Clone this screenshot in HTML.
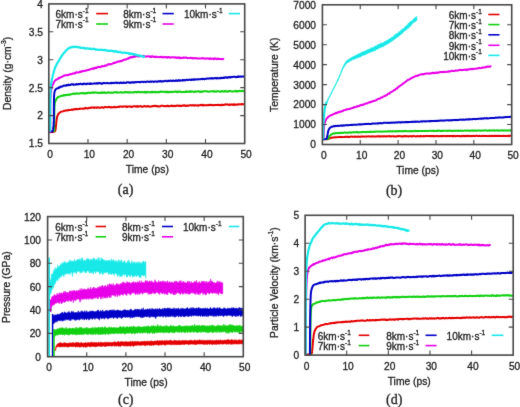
<!DOCTYPE html>
<html><head><meta charset="utf-8"><title>Figure</title>
<style>html,body{margin:0;padding:0;background:#fff;}body{width:520px;height:407px;overflow:hidden;}svg{display:block;}</style>
</head><body>
<svg width="520" height="407" viewBox="0 0 520 407">
<style>text{fill:#1e1e1e;stroke:#1e1e1e;stroke-width:0.3px;}</style>
<defs><filter id="bl" filterUnits="userSpaceOnUse" x="0" y="0" width="520" height="407" color-interpolation-filters="sRGB"><feConvolveMatrix order="3" kernelMatrix="0.015 0.06 0.015 0.06 0.7 0.06 0.015 0.06 0.015" edgeMode="duplicate"/></filter></defs>
<rect width="520" height="407" fill="#fff"/>
<g filter="url(#bl)">
<polyline points="49.4,131.96 49.76,131.82 50.49,132.22 51.57,131.76 52.3,132.13 53.03,131.99 54.15,131.49 54.95,131.34 55.42,130.19 55.58,129.48 55.65,128.56 55.73,127.94 55.81,127.45 55.89,127.02 55.98,125.58 56.06,124.78 56.12,124.44 56.18,124.02 56.24,123.06 56.33,122.03 56.43,121.6 56.54,120.07 56.64,119.94 56.76,118.82 56.88,118.03 57.12,116.88 57.41,116.03 57.72,115.57 58.06,114.31 58.44,114 58.88,113.5 59.39,112.83 59.97,112.59 60.63,111.9 61.33,111.6 62.08,111.41 62.88,111.49 63.73,110.99 64.36,110.75 64.99,110.81 65.83,110.54 66.66,110.25 67.36,110.54 68.05,110.35 68.75,109.87 69.38,110.05 70,109.92 70.62,110.11 71.25,109.91 71.95,109.47 72.66,109.93 73.36,109.16 74.06,109.31 74.69,109.51 75.31,108.96 75.94,109.16 76.56,108.73 77.19,109.16 77.88,109.17 78.56,108.94 79.25,109.12 79.94,108.6 80.62,108.83 81.25,108.69 81.88,108.62 82.5,108.46 83.12,108.71 83.75,108.74 84.38,108.3 85.05,108.41 85.73,107.87 86.41,108.34 87.08,108.24 87.76,108.47 88.44,108.28 89.06,107.82 89.69,107.86 90.31,108.05 90.94,107.5 91.56,107.82 92.19,107.55 92.81,107.47 93.48,107.39 94.15,107.93 94.82,107.39 95.49,107.46 96.16,107.54 96.83,107.9 97.5,107.24 98.12,107.52 98.75,107.58 99.38,107.83 100,107.76 100.62,107.77 101.25,107.29 101.88,107.38 102.5,107.31 103.12,107.71 103.75,107.75 104.38,107.09 105,107.09 105.62,107.12 106.25,107.1 106.88,107.28 107.5,107.35 108.12,107.07 108.75,106.84 109.38,107.15 110,107.1 110.62,107.23 111.25,107.52 111.88,107.3 112.5,107.14 113.12,107.2 113.75,107.23 114.38,106.71 115,107.37 115.62,107.26 116.25,107.31 116.88,107.23 117.5,106.89 118.12,106.88 118.75,106.62 119.38,107.03 120,106.55 120.62,106.54 121.25,106.63 121.88,106.57 122.5,106.7 123.12,106.45 123.75,106.39 124.38,106.5 125,106.44 125.62,106.64 126.25,106.35 126.88,107.02 127.5,106.79 128.12,106.4 128.75,106.47 129.38,106.53 130,106.53 130.62,106.33 131.25,106.89 131.88,107 132.5,106.56 133.12,106.56 133.75,106.23 134.38,106.23 135,106.41 135.62,106.33 136.25,106.77 136.88,106.22 137.5,106.1 138.12,106.83 138.75,106.48 139.38,106.16 140,106.47 140.62,106.04 141.25,106.43 141.88,106.78 142.5,106.68 143.12,106.53 143.75,106.17 144.38,106.24 145,106.07 145.62,106.54 146.25,106.34 146.88,106.53 147.5,106.16 148.12,106.06 148.75,106.52 149.38,106.65 150,106.53 150.62,106.48 151.25,106.48 151.88,106.41 152.5,105.99 153.12,106.21 153.75,106.07 154.38,105.8 155,105.78 155.62,105.97 156.25,105.95 156.88,106.28 157.5,106.48 158.12,106.06 158.75,106.44 159.38,106.47 160,106.44 160.62,105.95 161.25,105.83 161.88,105.82 162.5,105.78 163.12,105.78 163.75,106.1 164.38,106.31 165,106.25 165.62,105.95 166.25,106.08 166.88,106.19 167.5,105.6 168.12,106.05 168.75,106.24 169.38,106.13 170,106.09 170.62,105.86 171.25,105.61 171.88,106.09 172.5,105.71 173.12,106.07 173.75,106.2 174.38,105.72 175,105.72 175.62,106.14 176.25,105.95 176.88,105.5 177.5,105.45 178.12,105.46 178.75,106.05 179.38,105.96 180,105.42 180.62,105.95 181.25,106.06 181.88,105.79 182.5,105.53 183.12,105.68 183.75,105.33 184.38,105.22 185,105.98 185.62,105.71 186.25,105.6 186.88,105.91 187.5,105.5 188.12,105.83 188.75,105.79 189.39,105.28 190.04,105.3 190.68,105.32 191.33,105.26 191.97,105.53 192.62,105.25 193.26,105.37 193.9,105.12 194.55,105.73 195.19,105.27 195.84,105.34 196.48,105.43 197.12,105.67 197.74,105.27 198.36,105.66 198.97,105.31 199.59,105.32 200.21,105.3 200.82,104.88 201.44,105.21 202.06,104.99 202.68,104.83 203.29,105.46 203.91,104.94 204.53,105.17 205.14,105.36 205.76,105.21 206.38,105.01 207.01,105.15 207.64,105.17 208.27,105.34 208.91,104.78 209.54,105.13 210.17,104.86 210.8,104.87 211.44,105.26 212.07,105.03 212.7,105.06 213.34,105.2 213.97,105.31 214.6,104.92 215.23,105.04 215.87,104.94 216.5,104.93 217.11,105.07 217.72,104.86 218.33,104.91 218.94,104.85 219.56,105.21 220.17,105 220.78,105.13 221.39,105.17 222,104.61 222.61,104.83 223.22,105.13 223.83,105.03 224.44,104.45 225.06,104.43 225.67,104.67 226.28,104.36 226.89,104.48 227.5,104.33 228.13,104.8 228.77,104.87 229.4,104.95 230.04,104.34 230.67,104.78 231.31,104.72 231.94,104.29 232.58,104.87 233.21,104.92 233.85,104.31 234.48,104.88 235.12,104.42 235.75,104.48 236.36,104.87 236.97,104.73 237.58,104.18 238.19,104.38 238.81,104.43 239.42,104.28 240.03,104.15 240.64,104.23 241.25,104.54 241.94,103.96 242.62,104.37 243.31,104.27 244,103.91" fill="none" stroke="#e40000" stroke-width="2.0" stroke-linejoin="round" stroke-linecap="butt"/>
<polyline points="54.2,131.97 54.2,131.51 54.21,130.73 54.21,129.68 54.21,129.73 54.22,128.88 54.22,128.33 54.22,126.95 54.23,126.39 54.23,125.52 54.23,125.42 54.23,124.32 54.24,123.52 54.24,123.14 54.24,122.91 54.25,122.23 54.25,121.16 54.25,120.46 54.25,120.46 54.26,119.57 54.26,119.06 54.26,117.96 54.27,117.28 54.27,117.13 54.28,116.26 54.29,115.33 54.29,115.37 54.3,114.47 54.31,113.95 54.32,112.77 54.33,112.78 54.34,111.54 54.35,111.57 54.36,110.64 54.37,109.94 54.39,109.44 54.41,109.06 54.43,107.86 54.45,107.08 54.5,106.52 54.55,105.42 54.62,104.57 54.69,103.87 54.79,103.17 54.88,102.67 55.11,101.8 55.39,101.09 55.69,100.78 56.01,99.76 56.36,99.3 56.74,98.44 57.19,98.03 57.71,97.28 58.31,97.04 58.99,96.47 59.71,96.71 60.47,96.25 61.28,95.68 62.12,95.65 62.83,95.88 63.53,95.07 64.19,95.52 64.84,95.1 65.49,95.04 66.12,95.22 66.75,94.77 67.38,94.76 68.01,94.81 68.63,94.96 69.24,94.37 69.86,94.67 70.47,94.49 71.09,94.35 71.78,94.09 72.47,93.97 73.16,93.66 73.85,93.64 74.54,93.52 75.17,94 75.81,93.56 76.45,93.43 77.09,93.31 77.73,93.86 78.36,93.83 78.96,93.63 79.56,93.28 80.16,93.21 80.76,93.21 81.36,93.31 81.96,93.03 82.56,93.22 83.22,93.04 83.87,93.57 84.52,93.54 85.18,93.17 85.83,92.9 86.48,93.44 87.14,92.89 87.77,92.9 88.4,92.6 89.03,92.88 89.66,92.93 90.29,92.93 90.92,92.67 91.56,92.89 92.19,92.47 92.82,92.66 93.44,92.5 94.05,92.73 94.67,92.43 95.29,92.4 95.9,92.61 96.52,92.54 97.14,92.81 97.76,92.75 98.37,92.91 98.99,92.82 99.61,92.85 100.21,92.97 100.82,92.57 101.43,92.51 102.04,93.03 102.64,92.35 103.25,92.8 103.86,92.73 104.46,92.24 105.07,92.86 105.68,92.89 106.29,92.67 106.89,92.75 107.5,92.8 108.1,92.25 108.7,92.56 109.3,92.53 109.9,92.79 110.5,92.76 111.1,92.77 111.7,92.57 112.3,92.81 112.9,92.64 113.5,92.64 114.1,92.26 114.7,92.09 115.3,92.17 115.9,92.35 116.5,92.13 117.12,92.71 117.73,92.48 118.35,92.53 118.97,92.52 119.58,92.56 120.2,92.4 120.82,92.01 121.43,92.63 122.05,92.59 122.67,92.39 123.28,92.4 123.9,92.5 124.52,92.02 125.13,92.55 125.75,92.15 126.38,92 127.02,92.15 127.65,92.51 128.28,92.09 128.92,92.51 129.55,92.69 130.18,92.3 130.82,92.2 131.45,92.27 132.08,92.43 132.72,92.49 133.35,92.36 133.98,92.38 134.62,91.92 135.25,91.97 135.86,92.05 136.47,92.43 137.08,92.07 137.69,92.28 138.3,91.83 138.91,91.86 139.52,92.02 140.12,92.34 140.73,92.35 141.34,92.33 141.95,92.01 142.56,92.19 143.17,92.14 143.78,92.14 144.39,91.85 145,92.46 145.62,91.9 146.25,92.52 146.88,92.48 147.5,91.74 148.12,92.09 148.75,92.37 149.38,92.48 150,92.06 150.62,91.91 151.25,91.86 151.88,92.44 152.5,91.84 153.12,92.13 153.75,91.78 154.38,92.08 155,92.41 155.61,91.75 156.21,92.29 156.82,92.04 157.43,92.33 158.03,92.18 158.64,91.8 159.24,92.32 159.85,91.99 160.46,91.61 161.06,91.59 161.67,91.97 162.28,91.94 162.88,91.81 163.49,91.68 164.09,91.83 164.7,91.8 165.31,92.22 165.91,91.54 166.52,92.13 167.12,92.2 167.74,91.61 168.36,92.25 168.98,92.08 169.6,92.22 170.22,91.72 170.84,91.78 171.46,91.79 172.08,92.27 172.7,91.94 173.32,91.75 173.94,91.8 174.56,91.67 175.18,91.48 175.8,91.52 176.42,92.09 177.04,91.65 177.66,92.16 178.28,91.61 178.9,91.61 179.52,91.8 180.14,91.54 180.76,91.68 181.38,92.14 181.98,92.08 182.59,92.01 183.19,91.86 183.8,92.08 184.41,92.1 185.01,91.78 185.62,91.91 186.23,91.36 186.83,91.9 187.44,91.67 188.05,91.91 188.65,91.81 189.26,91.52 189.87,91.32 190.47,92.02 191.08,91.37 191.69,91.64 192.29,91.53 192.9,91.49 193.5,91.84 194.11,92.02 194.72,91.44 195.32,91.75 195.93,91.46 196.54,91.66 197.14,91.52 197.75,91.33 198.37,91.32 198.98,91.35 199.6,91.9 200.22,91.57 200.83,91.34 201.45,91.89 202.07,91.95 202.68,91.51 203.3,91.25 203.92,91.29 204.53,91.2 205.15,91.39 205.77,91.19 206.38,91.3 207,91.31 207.62,91.55 208.23,91.8 208.85,91.68 209.47,91.4 210.08,91.4 210.7,91.48 211.32,91.35 211.93,91.32 212.55,91.09 213.17,91.26 213.78,91.8 214.4,91.12 215.02,91.42 215.63,91.51 216.25,91.69 216.85,91.17 217.46,91.2 218.06,91.18 218.66,91.29 219.27,91.32 219.87,91.72 220.47,91.63 221.08,91.65 221.68,90.96 222.28,90.96 222.89,91.5 223.49,91.64 224.09,91.29 224.7,91.38 225.3,90.9 225.9,91.21 226.51,91.63 227.11,91.54 227.71,91.56 228.32,91.65 228.92,91.06 229.52,90.94 230.12,90.97 230.74,91.26 231.36,91.38 231.97,91.58 232.59,91.4 233.21,91.33 233.82,91.42 234.44,91.17 235.06,91.24 235.68,90.82 236.29,91.41 236.91,90.96 237.53,91.51 238.14,91.28 238.76,91 239.38,90.85 240.04,90.94 240.7,91.24 241.36,91.29 242.02,90.81 242.68,90.77 243.34,91.13 244,91.17" fill="none" stroke="#10d010" stroke-width="2.0" stroke-linejoin="round" stroke-linecap="butt"/>
<polyline points="49.4,131.71 49.67,131.58 50.23,131.88 51.05,131.41 52.15,131.64 52.43,131.11 52.7,130.84 52.98,129.93 53.07,129.46 53.17,128.47 53.26,127.61 53.36,126.96 53.45,126.87 53.54,126 53.58,125.02 53.61,124.13 53.64,123.85 53.67,123.33 53.71,122.46 53.74,121.67 53.77,121.33 53.8,120.88 53.84,119.66 53.84,118.89 53.84,118.52 53.84,117.98 53.85,117.57 53.85,116.58 53.85,116.44 53.85,115.79 53.85,114.99 53.85,114.14 53.86,114.14 53.86,113 53.86,112.79 53.86,111.71 53.87,111.06 53.87,110.85 53.87,109.84 53.88,109.73 53.88,108.72 53.88,107.83 53.89,107.22 53.89,106.74 53.9,106.3 53.9,105.88 53.91,104.64 53.91,104.23 53.92,103.48 53.92,103.48 53.93,102.21 53.94,101.53 53.94,100.93 53.95,100.59 53.96,100.33 53.97,99.66 53.99,98.88 54,98.43 54.01,97.72 54.05,96.36 54.09,95.37 54.15,95.22 54.21,94.32 54.29,93.13 54.37,93.01 54.58,91.78 54.83,91.02 55.14,90.32 55.53,89.6 55.99,88.96 56.51,88.76 57.29,88.33 58.31,88.26 58.95,87.29 59.59,87.66 60.35,86.72 61.11,86.5 61.75,86.67 62.39,86.47 63.02,85.96 63.79,85.49 64.56,85.66 65.32,85.4 66,85.73 66.67,85.05 67.34,85.07 68.01,85.39 68.63,84.63 69.24,84.86 69.86,85.11 70.47,85.01 71.09,84.36 71.78,84.29 72.47,84.25 73.16,84.88 73.85,84.29 74.54,84.62 75.17,84.69 75.81,84.2 76.45,84.11 77.09,84.61 77.73,84.29 78.36,83.97 78.96,84.3 79.56,83.95 80.16,83.88 80.76,83.63 81.36,84.2 81.96,84.3 82.56,84.04 83.22,84.27 83.87,83.51 84.52,83.65 85.18,83.82 85.83,84.18 86.48,84.15 87.14,83.67 87.77,83.54 88.4,83.66 89.03,83.69 89.66,84.02 90.29,83.4 90.92,83.88 91.56,83.8 92.19,83.85 92.82,83.79 93.44,83.64 94.05,83.39 94.67,83.37 95.29,83.38 95.9,83.7 96.52,83.12 97.14,83.19 97.76,83.62 98.37,83.19 98.99,83.03 99.61,82.98 100.21,83.38 100.82,83.18 101.43,83.69 102.04,83.59 102.64,83.66 103.25,83.06 103.86,82.9 104.46,82.89 105.07,83.19 105.68,83.35 106.29,83.12 106.89,82.93 107.5,83.06 108.1,83.2 108.7,83.23 109.3,83.27 109.9,83.34 110.5,83.17 111.1,82.72 111.7,83.28 112.3,82.83 112.9,83.03 113.5,82.86 114.1,83.13 114.7,82.68 115.3,82.71 115.9,82.69 116.5,82.6 117.14,83.16 117.78,82.9 118.42,82.68 119.05,82.72 119.69,83.17 120.33,82.77 120.97,82.53 121.61,82.97 122.25,82.82 122.88,83.08 123.52,82.35 124.16,82.62 124.8,82.88 125.44,82.88 126.07,82.92 126.71,82.2 127.34,82.38 127.97,82.22 128.61,82.26 129.24,82.86 129.88,82.53 130.51,82.79 131.14,82.32 131.78,82.69 132.41,82.34 133.04,82.17 133.68,82.56 134.31,82.68 134.94,81.98 135.57,82.35 136.2,82.35 136.83,82.01 137.46,82.1 138.09,81.9 138.72,81.93 139.35,81.95 139.98,82.2 140.61,82.22 141.24,81.84 141.87,81.67 142.5,81.9 143.12,82.16 143.75,81.74 144.38,81.82 145,81.71 145.62,82.16 146.25,81.93 146.88,81.52 147.5,81.53 148.12,81.74 148.75,81.84 149.38,81.89 150,81.43 150.62,81.46 151.25,81.87 151.88,81.62 152.5,81.49 153.12,81.48 153.75,81.97 154.38,81.43 155,81.61 155.62,81.42 156.25,81.44 156.88,81.77 157.5,81.85 158.12,81.32 158.75,81.16 159.38,81.56 160,81.11 160.62,80.93 161.25,81.62 161.88,81.21 162.5,81.5 163.12,81.14 163.75,81.49 164.38,81.12 165,80.86 165.62,80.71 166.25,81.11 166.88,81.15 167.5,81.34 168.12,80.65 168.75,81.05 169.38,80.82 170,80.9 170.62,80.58 171.25,80.66 171.88,80.82 172.5,81.11 173.12,80.42 173.75,80.7 174.38,80.92 175,81.02 175.62,80.37 176.25,80.28 176.88,80.9 177.5,80.9 178.12,80.47 178.75,80.1 179.38,80.76 180,80.3 180.62,80.68 181.25,80.41 181.88,80.54 182.5,79.98 183.12,80.44 183.75,79.96 184.38,80.07 185,80.39 185.62,80.34 186.25,79.79 186.88,79.79 187.5,79.9 188.12,79.95 188.74,79.81 189.36,79.57 189.98,79.63 190.6,79.97 191.22,80.08 191.84,79.36 192.46,79.74 193.08,79.86 193.7,79.24 194.32,79.85 194.95,79.24 195.57,79.58 196.19,79.51 196.8,79.53 197.42,79.24 198.04,79.29 198.66,79.38 199.27,79.22 199.89,79.37 200.51,79.16 201.12,79.11 201.74,78.74 202.36,79.18 202.98,79.04 203.59,78.8 204.21,79.18 204.83,79.16 205.45,78.86 206.06,78.6 206.68,78.79 207.29,78.46 207.9,78.44 208.52,78.64 209.13,78.33 209.75,78.57 210.36,78.58 210.97,78.17 211.59,78.6 212.2,78.12 212.82,78.6 213.43,78.6 214.04,78.34 214.66,77.94 215.27,78.26 215.89,78.12 216.5,78.54 217.11,77.84 217.72,78.38 218.33,78.45 218.94,78.19 219.56,78.22 220.17,77.68 220.78,78.27 221.39,77.84 222,78.17 222.61,78.09 223.22,77.45 223.83,77.91 224.44,77.98 225.06,77.24 225.67,77.43 226.28,77.71 226.89,77.19 227.5,77.74 228.13,77.2 228.77,77.59 229.4,77.01 230.04,77.25 230.67,77.54 231.31,76.93 231.94,76.93 232.58,77.08 233.21,76.89 233.85,76.62 234.48,76.69 235.12,76.63 235.75,77.21 236.36,76.96 236.97,77.1 237.58,76.47 238.19,76.92 238.81,76.35 239.42,76.64 240.03,76.68 240.64,76.42 241.25,76.79 241.94,76.48 242.62,76.46 243.31,76.65 244,75.98" fill="none" stroke="#0000c8" stroke-width="2.0" stroke-linejoin="round" stroke-linecap="butt"/>
<polyline points="50.2,132.44 50.2,131.45 50.2,130.57 50.21,130.27 50.21,129.12 50.21,129.11 50.21,128.07 50.21,127.21 50.22,126.9 50.22,125.95 50.22,125.11 50.22,125.02 50.22,123.79 50.23,123.89 50.23,122.78 50.23,122.53 50.23,122.24 50.23,121.28 50.24,120.75 50.24,119.83 50.24,118.94 50.24,118.35 50.24,117.84 50.25,117.64 50.25,116.86 50.25,116.32 50.25,116.05 50.25,114.75 50.25,114.22 50.26,113.98 50.26,112.8 50.26,112.17 50.26,111.87 50.27,110.99 50.27,110.56 50.28,109.78 50.28,109.45 50.29,108.8 50.3,107.8 50.3,107.52 50.31,106.73 50.31,105.77 50.32,105.83 50.33,104.57 50.34,103.84 50.35,103.15 50.36,103 50.37,102.57 50.38,101.85 50.4,100.86 50.41,100.1 50.43,99.26 50.45,99.21 50.47,98.52 50.49,97.72 50.51,97.37 50.52,96.57 50.57,96.27 50.62,95.34 50.67,94.15 50.74,94.06 50.81,92.61 50.88,92.37 50.96,91.65 51.04,90.9 51.12,90.13 51.27,89.99 51.42,88.5 51.6,88.3 51.77,87.96 51.97,86.61 52.16,86.02 52.36,85.81 52.57,85.14 53.01,84.2 53.49,83.41 54.04,81.94 54.66,81.22 55.36,80.43 56.14,79.48 57.07,79.53 57.62,79.09 58.17,78.69 58.81,77.72 59.44,78.13 60.15,77.72 60.86,77.14 61.6,77.09 62.34,76.53 63.11,76.05 63.88,75.67 64.68,75.53 65.47,75.11 66.3,75.15 67.12,75.3 67.79,75.07 68.46,75.03 69.13,74.73 69.72,74.18 70.31,74.29 70.9,74.03 71.49,74.19 72.17,73.78 72.85,73.37 73.53,73.54 74.21,73.66 74.83,72.83 75.44,73.27 76.06,72.34 76.67,72.4 77.29,72.22 77.99,72.51 78.69,72.51 79.4,72.16 80.1,71.61 80.74,71.95 81.38,71.3 82.01,71.06 82.65,71.5 83.41,71.07 84.17,70.94 84.94,70.74 85.61,70.86 86.29,70.24 86.96,70.42 87.65,70.12 88.33,70.1 89.02,69.56 89.71,69.65 90.4,69.34 91.09,68.94 91.78,68.68 92.48,68.88 93.17,68.22 93.77,68.82 94.36,67.98 94.96,67.73 95.56,67.65 96.16,68.24 96.75,67.57 97.35,67.24 97.96,66.99 98.58,66.84 99.19,67.28 99.8,67.07 100.41,66.97 101.03,66.86 101.64,66.1 102.25,66.42 102.83,66.06 103.42,66.32 104,66.17 104.58,66.08 105.16,65.18 105.75,65.75 106.33,65.64 106.91,65.51 107.54,64.58 108.18,64.5 108.81,64.24 109.44,63.99 110.07,64.55 110.71,64.34 111.34,64.01 111.94,64.01 112.53,63.66 113.13,63.17 113.73,62.83 114.33,62.65 114.93,63.07 115.53,62.4 116.18,62.3 116.84,62.19 117.5,61.62 118.16,61.63 118.82,61.45 119.47,61.63 120.05,61.13 120.62,60.91 121.19,61.3 121.77,60.7 122.34,60.83 122.91,60.44 123.5,59.71 124.08,59.86 124.67,59.68 125.25,59.79 125.84,59.21 126.44,59.31 127.04,58.94 127.65,58.44 128.25,58.8 128.88,57.86 129.52,58.26 130.15,57.43 130.77,57.08 131.39,57.06 132.01,57.36 132.62,57.41 133.23,56.38 133.84,56.67 134.43,56.57 135.03,56.74 135.62,56.09 136.5,56.3 137.38,56.09 138,56.5 138.62,55.96 139.25,56.54 139.92,55.94 140.58,55.88 141.25,56.31 141.96,56.15 142.67,55.82 143.38,56.31 144.12,55.85 144.88,56.53 145.62,56.49 146.35,56.61 147.08,56.5 147.81,56.3 148.54,56.37 149.25,56.4 149.97,56.88 150.68,56.2 151.4,56.95 152.11,56.21 152.72,56.4 153.32,56.48 153.93,57.08 154.53,56.75 155.14,56.67 155.74,57.15 156.35,56.6 156.96,56.83 157.58,56.92 158.19,57.15 158.8,57.18 159.41,57.11 160.03,56.87 160.64,56.88 161.25,56.75 161.88,57.4 162.5,57.26 163.13,57.36 163.76,56.87 164.38,57.14 165.01,57.46 165.64,57.31 166.26,56.93 166.9,57.26 167.54,57.66 168.18,57.1 168.82,57.08 169.47,57.21 170.11,57.59 170.75,57.74 171.39,57.15 172.04,57.17 172.7,57.27 173.35,57.36 174.01,57.56 174.66,57.26 175.32,57.43 175.97,57.32 176.62,58.05 177.29,57.85 177.96,57.3 178.63,58.1 179.3,57.34 179.97,57.61 180.64,58.17 181.31,58.02 181.98,57.98 182.59,57.73 183.2,57.54 183.82,57.95 184.43,57.49 185.04,57.6 185.66,57.78 186.27,57.48 186.89,57.82 187.5,58.19 188.11,58.12 188.74,57.97 189.37,58.11 190,57.97 190.63,57.7 191.26,58.13 191.89,57.97 192.52,58.29 193.15,58.46 193.78,58.05 194.41,58.2 195.04,58.37 195.68,58.1 196.32,57.94 196.97,58.41 197.61,58.57 198.25,58.49 198.89,58.44 199.54,58.6 200.18,58.46 200.82,58.45 201.46,58.3 202.11,58.19 202.75,58.49 203.36,58.03 203.96,58.34 204.57,58.68 205.18,58.64 205.79,58.58 206.39,58.26 207,58.43 207.61,58.48 208.21,58.65 208.82,58.47 209.43,58.73 210.04,58.98 210.64,58.32 211.25,58.76 211.89,58.89 212.53,58.56 213.16,58.67 213.8,59.13 214.44,58.3 215.07,58.78 215.71,58.45 216.35,59.03 216.99,59.19 217.62,58.83 218.23,58.47 218.84,58.92 219.45,58.9 220.05,59.08 220.66,58.91 221.27,59.04 221.88,59.23 222.58,58.98 223.29,58.9 224,59.4" fill="none" stroke="#e800e8" stroke-width="2.0" stroke-linejoin="round" stroke-linecap="butt"/>
<polyline points="50,131.77 50,131.48 50,130.58 50.01,130.21 50.01,129.03 50.01,129.05 50.01,127.88 50.01,126.98 50.02,126.49 50.02,125.92 50.02,125.01 50.02,124.73 50.02,124.14 50.03,123.76 50.03,122.88 50.03,122.21 50.03,121.58 50.03,121.39 50.04,120.95 50.04,120.02 50.04,119.16 50.04,119.01 50.04,118.07 50.05,117.31 50.05,116.63 50.05,116.53 50.05,115.94 50.05,115.18 50.05,114.44 50.06,113.9 50.06,113.01 50.06,112.99 50.06,111.88 50.07,111.49 50.07,111.02 50.08,110.39 50.08,109.5 50.09,108.74 50.09,108.32 50.09,107.36 50.1,107.31 50.1,106.31 50.11,106.09 50.11,105 50.12,104.46 50.13,103.74 50.14,103.25 50.15,102.44 50.15,101.66 50.16,101.61 50.17,100.64 50.18,99.98 50.19,99.4 50.2,98.91 50.22,98.24 50.23,97.77 50.24,97.15 50.26,96.28 50.27,96.1 50.29,95.41 50.31,94.12 50.34,94.09 50.36,93.5 50.39,92.75 50.41,91.59 50.46,91.39 50.5,90.49 50.55,89.25 50.59,88.5 50.65,88.58 50.71,87.66 50.77,86.66 50.83,85.86 50.9,85.28 50.98,84.75 51.05,84.57 51.13,83.61 51.24,82.73 51.36,82.61 51.47,81.8 51.62,80.53 51.77,80.35 51.92,79.36 52.05,78.9 52.19,78.21 52.32,77.79 52.46,77.11 52.61,76.52 52.77,75.38 52.93,75.14 53.09,74.39 53.27,73.9 53.45,73 53.63,72.7 53.81,71.78 53.99,70.98 54.17,70.38 54.34,69.73 54.52,69.44 54.75,68.44 54.98,68.11 55.21,67.2 55.54,66.66 55.87,65.85 56.2,65.23 56.53,64.84 56.84,63.55 57.16,63.62 57.46,62.76 57.77,62.28 58.36,61.34 58.94,60.56 59.52,59.26 60.11,58.37 60.7,57.88 61.3,56.25 61.91,55.8 62.52,54.92 63.14,53.59 63.76,53.23 64.41,52.47 65.07,51.87 65.75,50.6 66.45,50.35 67.19,49.29 67.98,48.68 68.81,48.52 69.69,47.43 70.57,47.64 71.46,47.29 72.35,46.85 73.25,47.11 74.26,46.67 75.39,46.8 76.01,46.92 76.62,47.19 77.3,46.87 77.97,47.17 78.79,47.29 79.61,47.53 80.25,47.84 80.9,47.51 81.54,48.02 82.27,47.78 83.01,47.96 83.75,47.87 84.38,48.13 85,48.58 85.62,48.4 86.25,48.58 86.87,48.28 87.49,48.34 88.11,48.39 88.73,48.69 89.35,48.8 89.97,48.98 90.58,48.44 91.2,49.05 91.82,49.25 92.43,49.04 93.05,48.7 93.66,48.96 94.28,48.79 94.89,48.99 95.51,49.64 96.12,49.44 96.74,49.54 97.35,49.71 97.96,49.86 98.58,49.68 99.19,49.74 99.8,49.8 100.41,49.91 101.03,49.89 101.64,50.01 102.25,49.7 102.86,50.12 103.48,50.02 104.09,50.33 104.7,49.87 105.32,49.99 105.93,49.94 106.54,50.6 107.16,50.78 107.77,50.64 108.38,50.49 109,50.92 109.61,50.97 110.23,50.86 110.84,50.69 111.45,50.8 112.07,50.97 112.68,50.97 113.3,51.14 113.91,51.39 114.53,51.71 115.14,51.09 115.76,51.58 116.37,51.24 116.99,51.38 117.6,52.03 118.22,51.93 118.83,52.29 119.45,52.01 120.07,51.75 120.68,52.14 121.3,52.4 121.91,52.76 122.52,52.89 123.12,52.58 123.73,52.62 124.33,52.47 124.94,52.99 125.54,52.74 126.15,52.78 126.86,52.79 127.57,52.9 128.28,53.55 128.99,53.22 129.7,54.01 130.42,53.43 131.13,54.18 131.85,53.72 132.56,53.75 133.29,54.45 134.01,54.21 134.74,54.75 135.43,54.45 136.12,54.49 136.81,55.21 137.46,55.3 138.11,55.56 138.77,55.6 139.39,55.22 140.01,55.8 140.62,56 141.21,55.95 141.79,56.47 142.38,56.07 143.03,56.79 143.69,56.76 144.56,56.4 145,56.51" fill="none" stroke="#18e8e8" stroke-width="2.2" stroke-linejoin="round" stroke-linecap="butt"/>
<path d="M87.98 143.5V139M87.98 3.9V8.4M127.16 143.5V139M127.16 3.9V8.4M166.34 143.5V139M166.34 3.9V8.4M205.52 143.5V139M205.52 3.9V8.4M48.8 115.58H53.3M244.7 115.58H240.2M48.8 87.66H53.3M244.7 87.66H240.2M48.8 59.74H53.3M244.7 59.74H240.2M48.8 31.82H53.3M244.7 31.82H240.2" stroke="#484848" stroke-width="1.1" fill="none"/>
<rect x="48.8" y="3.9" width="195.9" height="139.6" fill="none" stroke="#484848" stroke-width="1.6"/>
<text x="43" y="147.4" font-size="10.2" text-anchor="end" font-family="'Liberation Sans', Arial, sans-serif">1.5</text>
<text x="43" y="119.48" font-size="10.2" text-anchor="end" font-family="'Liberation Sans', Arial, sans-serif">2</text>
<text x="43" y="91.56" font-size="10.2" text-anchor="end" font-family="'Liberation Sans', Arial, sans-serif">2.5</text>
<text x="43" y="63.64" font-size="10.2" text-anchor="end" font-family="'Liberation Sans', Arial, sans-serif">3</text>
<text x="43" y="35.72" font-size="10.2" text-anchor="end" font-family="'Liberation Sans', Arial, sans-serif">3.5</text>
<text x="43" y="7.8" font-size="10.2" text-anchor="end" font-family="'Liberation Sans', Arial, sans-serif">4</text>
<text x="50.2" y="158.2" font-size="10.2" text-anchor="middle" font-family="'Liberation Sans', Arial, sans-serif">0</text>
<text x="89.38" y="158.2" font-size="10.2" text-anchor="middle" font-family="'Liberation Sans', Arial, sans-serif">10</text>
<text x="128.56" y="158.2" font-size="10.2" text-anchor="middle" font-family="'Liberation Sans', Arial, sans-serif">20</text>
<text x="167.74" y="158.2" font-size="10.2" text-anchor="middle" font-family="'Liberation Sans', Arial, sans-serif">30</text>
<text x="206.92" y="158.2" font-size="10.2" text-anchor="middle" font-family="'Liberation Sans', Arial, sans-serif">40</text>
<text x="246.1" y="158.2" font-size="10.2" text-anchor="middle" font-family="'Liberation Sans', Arial, sans-serif">50</text>
<text x="147.35" y="173.4" font-size="10.3" text-anchor="middle" font-family="'Liberation Sans', Arial, sans-serif">Time (ps)</text>
<text x="125.6" y="194.3" font-size="14" text-anchor="middle" font-family="'Liberation Serif', 'Times New Roman', serif">(a)</text>
<text transform="translate(11.2,73.4) rotate(-90)" font-size="10.3" text-anchor="middle" font-family="'Liberation Sans', Arial, sans-serif">Density (g·cm<tspan font-size="6.8" dy="-5.3">-3</tspan><tspan dy="5.3">)</tspan></text>
<text x="88.5" y="18.3" font-size="10" text-anchor="end" font-family="'Liberation Sans', Arial, sans-serif">6km·s<tspan font-size="6.5" dy="-5.5">-1</tspan></text>
<line x1="96.2" y1="13.6" x2="108" y2="13.6" stroke="#e40000" stroke-width="1.6"/>
<text x="88.5" y="27.8" font-size="10" text-anchor="end" font-family="'Liberation Sans', Arial, sans-serif">7km·s<tspan font-size="6.5" dy="-5.5">-1</tspan></text>
<line x1="96.2" y1="24" x2="108" y2="24" stroke="#10d010" stroke-width="1.6"/>
<text x="156.2" y="18.3" font-size="10" text-anchor="end" font-family="'Liberation Sans', Arial, sans-serif">8km·s<tspan font-size="6.5" dy="-5.5">-1</tspan></text>
<line x1="162.5" y1="13.6" x2="173.8" y2="13.6" stroke="#0000c8" stroke-width="1.6"/>
<text x="156.2" y="27.8" font-size="10" text-anchor="end" font-family="'Liberation Sans', Arial, sans-serif">9km·s<tspan font-size="6.5" dy="-5.5">-1</tspan></text>
<line x1="162.5" y1="24" x2="173.8" y2="24" stroke="#e800e8" stroke-width="1.6"/>
<text x="222.5" y="18.3" font-size="10" text-anchor="end" font-family="'Liberation Sans', Arial, sans-serif">10km·s<tspan font-size="6.5" dy="-5.5">-1</tspan></text>
<line x1="228.8" y1="13.6" x2="240" y2="13.6" stroke="#18e8e8" stroke-width="1.6"/>
<polyline points="323.5,139.27 323.8,139.33 324.4,139 325.3,139.08 325.9,139.25 326.5,138.99 327.48,139.23 328.23,138.97 328.75,138.64 329.05,138.6 329.42,138.51 329.86,138.27 330.36,138.18 330.94,137.74 331.88,137.84 332.54,137.55 333.19,137.58 334.03,137.49 334.88,137.3 335.56,137.23 336.24,137.35 336.92,137.36 337.58,137.26 338.23,137.14 338.88,136.99 339.53,136.86 340.19,137.23 340.84,137.08 341.48,137.12 342.12,136.88 342.76,136.99 343.4,137.13 344.05,137.05 344.69,136.93 345.33,136.78 345.97,136.82 346.61,137 347.25,136.76 347.89,136.89 348.52,136.84 349.16,136.95 349.79,136.9 350.43,136.66 351.07,136.52 351.7,136.62 352.34,136.68 352.98,136.74 353.61,136.83 354.25,136.85 354.88,136.46 355.52,136.8 356.15,136.78 356.78,136.8 357.42,136.66 358.05,136.52 358.68,136.76 359.32,136.73 359.95,136.67 360.58,136.76 361.22,136.5 361.85,136.37 362.48,136.57 363.12,136.67 363.75,136.39 364.37,136.63 364.99,136.7 365.61,136.39 366.23,136.55 366.85,136.58 367.47,136.48 368.09,136.36 368.71,136.37 369.33,136.59 369.95,136.6 370.57,136.45 371.19,136.28 371.81,136.59 372.43,136.57 373.05,136.32 373.67,136.47 374.29,136.61 374.91,136.6 375.53,136.43 376.15,136.4 376.77,136.45 377.39,136.27 378.01,136.26 378.63,136.25 379.25,136.48 379.86,136.32 380.48,136.41 381.09,136.33 381.71,136.38 382.32,136.22 382.94,136.17 383.55,136.58 384.16,136.3 384.78,136.18 385.39,136.41 386.01,136.47 386.62,136.19 387.24,136.38 387.85,136.27 388.46,136.34 389.08,136.12 389.69,136.12 390.31,136.54 390.92,136.48 391.54,136.31 392.15,136.34 392.76,136.2 393.38,136.43 393.99,136.27 394.61,136.49 395.22,136.41 395.84,136.43 396.45,136.49 397.06,136.18 397.68,136.08 398.29,136.15 398.91,136.13 399.52,136.09 400.14,136.07 400.75,136.29 401.36,136.42 401.97,136.24 402.58,136.45 403.19,136.43 403.81,136.06 404.42,136.29 405.03,136.2 405.64,136.08 406.25,136.44 406.86,136.13 407.47,136.26 408.08,136.29 408.69,136.43 409.31,136.3 409.92,136.18 410.53,136.2 411.14,136.07 411.75,136.42 412.36,136.43 412.97,136.09 413.58,136.01 414.19,136.1 414.81,136.14 415.42,136.38 416.03,136.38 416.64,136.35 417.25,136 417.86,136.32 418.47,136.28 419.08,136.25 419.69,136.4 420.31,135.99 420.92,136.02 421.53,136.29 422.14,136.37 422.75,136.25 423.36,136.08 423.97,136.21 424.58,136.28 425.19,135.99 425.81,136.08 426.42,136.05 427.03,135.99 427.64,136.14 428.25,136 428.86,136.03 429.47,135.99 430.08,136.22 430.69,135.93 431.3,136.24 431.9,136 432.51,135.93 433.12,136.32 433.73,136.01 434.34,136.32 434.95,136.29 435.56,136.3 436.17,135.97 436.78,136.1 437.39,135.95 438,136.31 438.6,136.27 439.21,136.17 439.82,136.09 440.43,136.04 441.04,136.25 441.65,136.1 442.26,136.16 442.87,135.95 443.48,135.98 444.09,135.91 444.7,136.19 445.3,136.12 445.91,135.94 446.52,136.26 447.13,135.99 447.74,136.05 448.35,135.94 448.96,135.99 449.57,136.24 450.18,136.01 450.79,135.94 451.4,136.08 452,136 452.61,136.25 453.22,135.91 453.83,136.28 454.44,135.88 455.05,136.24 455.66,136.14 456.27,135.94 456.88,136.05 457.49,135.97 458.1,135.95 458.7,135.93 459.31,136 459.92,136.27 460.53,136.27 461.14,136.24 461.75,135.87 462.36,135.96 462.98,136.22 463.59,135.85 464.2,136.14 464.81,135.95 465.43,136.25 466.04,135.82 466.65,136.17 467.27,135.96 467.88,135.87 468.49,135.81 469.1,136.17 469.72,136.04 470.33,135.89 470.94,135.99 471.55,136.2 472.17,135.89 472.78,136.05 473.39,135.86 474.01,135.87 474.62,136.13 475.23,136.1 475.84,135.87 476.46,135.82 477.07,135.82 477.68,136.05 478.3,136 478.91,135.9 479.52,135.87 480.13,136.04 480.75,136.08 481.36,136.13 481.97,136.03 482.59,135.86 483.2,135.79 483.81,136.09 484.42,135.94 485.04,136.08 485.65,135.78 486.26,136.11 486.88,135.9 487.5,136.12 488.12,136.13 488.74,135.97 489.36,135.75 489.98,136.15 490.6,135.95 491.22,136.13 491.84,135.86 492.46,135.82 493.08,136.1 493.7,135.9 494.32,135.8 494.94,135.89 495.56,135.99 496.18,135.73 496.8,135.95 497.42,135.92 498.04,135.95 498.66,135.77 499.28,136.03 499.9,136.08 500.52,136.1 501.14,135.85 501.76,136.02 502.38,135.88 503,136.04 503.62,135.73 504.27,136.09 504.91,136.12 505.56,135.92 506.2,135.92 506.85,135.93 507.49,135.93 508.13,135.7 508.78,136.12 509.42,135.79 510.07,135.77 510.71,135.73 511.36,135.79 512,136.04" fill="none" stroke="#e40000" stroke-width="2.0" stroke-linejoin="round" stroke-linecap="butt"/>
<polyline points="323.5,138.99 323.8,139.02 324.4,139.27 325.3,139.03 325.9,138.94 326.5,139.18 327.44,139.02 328.13,138.72 328.56,138.4 328.74,137.61 328.94,137.45 329.18,136.91 329.45,136.16 329.75,135.77 330.12,135.52 330.56,135.13 331.06,134.64 331.64,134.2 332.29,133.98 333.01,133.57 333.81,133.5 334.69,133.4 335.34,133.03 336,133.17 336.66,133.2 337.31,132.89 337.97,133.13 338.6,133.15 339.23,132.88 339.86,132.86 340.5,133.01 341.13,132.85 341.76,132.76 342.39,132.97 343.02,132.86 343.66,132.64 344.28,132.58 344.9,132.59 345.52,132.61 346.15,132.83 346.77,132.73 347.39,132.76 348.01,132.69 348.64,132.68 349.26,132.31 349.88,132.49 350.5,132.66 351.13,132.63 351.75,132.3 352.37,132.36 352.99,132.43 353.6,132.3 354.22,132.35 354.84,132.13 355.46,132.27 356.07,132.28 356.69,132.05 357.31,132.08 357.93,132.43 358.54,132.32 359.16,132.38 359.78,132.22 360.4,132.28 361.01,132.29 361.63,132.28 362.25,131.88 362.87,132.13 363.49,131.95 364.1,132.12 364.72,131.92 365.34,132.02 365.96,132.17 366.57,132.02 367.19,131.84 367.81,131.94 368.43,131.89 369.04,132.1 369.66,131.79 370.28,131.78 370.9,131.92 371.51,131.67 372.13,131.86 372.75,132 373.37,131.79 373.99,131.67 374.6,131.74 375.22,131.76 375.84,131.57 376.46,131.55 377.07,131.53 377.69,131.59 378.31,131.63 378.93,131.56 379.54,131.53 380.16,131.44 380.78,131.63 381.4,131.74 382.01,131.63 382.63,131.6 383.25,131.62 383.87,131.41 384.49,131.62 385.1,131.5 385.72,131.52 386.34,131.54 386.96,131.46 387.57,131.38 388.19,131.34 388.81,131.31 389.43,131.43 390.04,131.36 390.66,131.44 391.28,131.17 391.9,131.31 392.51,131.52 393.13,131.23 393.75,131.36 394.37,131.32 394.99,131.22 395.6,131.52 396.22,131.21 396.84,131.41 397.46,131.13 398.07,131.07 398.69,131.42 399.31,131.22 399.93,131.04 400.54,131.17 401.16,131.19 401.78,131.31 402.4,131.02 403.01,131.06 403.63,131.37 404.25,131.27 404.87,131 405.49,131.08 406.11,131.08 406.73,131.21 407.35,131.18 407.97,131.27 408.59,131.25 409.2,131.11 409.82,131.2 410.44,131.2 411.06,131.2 411.68,131.06 412.3,131.19 412.92,131.15 413.54,131.23 414.16,130.88 414.78,131.2 415.4,130.81 416.02,131.14 416.64,131.05 417.26,131.01 417.88,131.2 418.5,131.03 419.12,130.95 419.74,131.11 420.36,131.14 420.98,131.02 421.6,130.91 422.22,130.94 422.84,130.94 423.46,131.05 424.08,130.85 424.7,130.89 425.32,130.96 425.94,130.88 426.56,130.84 427.18,131.04 427.8,131.06 428.42,130.91 429.04,130.88 429.66,130.76 430.28,130.8 430.9,130.73 431.52,130.91 432.14,130.91 432.76,130.69 433.38,131.05 434,130.78 434.62,131 435.23,130.99 435.83,131.04 436.43,130.71 437.03,130.8 437.64,131.01 438.24,130.61 438.84,130.62 439.44,130.85 440.05,130.81 440.65,130.99 441.25,130.92 441.85,130.82 442.45,131.02 443.06,130.8 443.66,130.8 444.26,130.86 444.86,130.73 445.47,130.71 446.07,130.81 446.67,130.7 447.27,130.96 447.88,130.84 448.48,130.77 449.08,130.57 449.68,130.69 450.28,130.7 450.89,130.76 451.49,130.77 452.09,130.9 452.69,130.93 453.3,130.71 453.9,130.69 454.5,130.77 455.11,130.93 455.71,130.64 456.32,130.72 456.92,130.84 457.53,130.55 458.13,130.61 458.74,130.9 459.34,130.83 459.95,130.69 460.55,130.51 461.16,130.85 461.76,130.76 462.37,130.81 462.97,130.88 463.58,130.83 464.18,130.63 464.79,130.51 465.39,130.56 466,130.66 466.61,130.65 467.21,130.51 467.82,130.5 468.42,130.69 469.03,130.68 469.63,130.57 470.24,130.84 470.84,130.68 471.45,130.42 472.05,130.58 472.66,130.74 473.26,130.53 473.87,130.69 474.47,130.39 475.08,130.51 475.68,130.75 476.29,130.63 476.89,130.66 477.5,130.45 478.12,130.58 478.73,130.6 479.35,130.47 479.96,130.64 480.58,130.58 481.2,130.79 481.81,130.6 482.43,130.52 483.04,130.39 483.66,130.4 484.28,130.66 484.89,130.37 485.51,130.37 486.12,130.4 486.74,130.55 487.36,130.68 487.97,130.58 488.59,130.66 489.21,130.33 489.82,130.31 490.44,130.64 491.05,130.44 491.67,130.61 492.29,130.44 492.9,130.36 493.52,130.4 494.13,130.32 494.75,130.67 495.36,130.53 495.96,130.42 496.57,130.46 497.17,130.43 497.78,130.28 498.38,130.65 498.99,130.51 499.59,130.67 500.2,130.44 500.8,130.51 501.41,130.35 502.01,130.25 502.62,130.64 503.22,130.6 503.83,130.36 504.43,130.62 505.04,130.58 505.64,130.35 506.25,130.48 506.89,130.63 507.53,130.42 508.17,130.62 508.81,130.3 509.44,130.37 510.08,130.51 510.72,130.28 511.36,130.32 512,130.57" fill="none" stroke="#10d010" stroke-width="2.0" stroke-linejoin="round" stroke-linecap="butt"/>
<polyline points="323.5,139.19 323.71,139.32 324.12,139.07 324.74,139.02 325.56,139.08 326.23,138.72 326.73,138.54 327.06,137.47 327.24,136.56 327.42,135.32 327.61,134.43 327.8,133.26 328,132.14 328.24,131 328.51,130.15 328.82,129.71 329.18,128.87 329.59,128.27 330.08,127.76 330.64,127.38 331.26,127.01 331.92,126.62 332.61,126.65 333.32,126.31 334.07,126.07 334.89,126.22 335.71,125.86 336.34,125.89 336.98,126.08 337.61,125.72 338.24,125.81 338.92,125.93 339.6,125.87 340.28,125.54 340.97,125.57 341.65,125.69 342.26,125.49 342.88,125.71 343.49,125.34 344.11,125.63 344.72,125.39 345.34,125.23 345.95,125.29 346.61,125.11 347.27,125.32 347.92,125.08 348.58,125.32 349.24,125.14 349.9,125.01 350.55,124.91 351.21,125.03 351.83,124.82 352.46,125.07 353.08,124.7 353.7,124.83 354.32,124.81 354.95,124.65 355.57,124.83 356.19,124.62 356.81,124.7 357.44,124.62 358.04,124.47 358.64,124.47 359.23,124.3 359.83,124.3 360.43,124.56 361.03,124.29 361.63,124.41 362.23,124.13 362.83,124.29 363.43,124.16 364.03,124.19 364.62,124.06 365.25,123.92 365.88,123.99 366.51,123.91 367.13,123.83 367.76,124.05 368.39,123.82 369.01,123.84 369.64,124.02 370.27,123.92 370.89,123.93 371.52,123.89 372.15,123.53 372.78,123.55 373.41,123.41 374.05,123.66 374.69,123.62 375.33,123.44 375.97,123.44 376.61,123.51 377.24,123.49 377.88,123.26 378.52,123.49 379.16,123.23 379.8,123.32 380.44,123.09 381.08,123.02 381.68,123.35 382.28,123.24 382.89,123.2 383.49,122.87 384.09,122.84 384.7,122.87 385.3,122.85 385.9,122.87 386.51,122.88 387.11,122.7 387.71,122.79 388.32,122.9 388.92,122.67 389.52,122.93 390.14,122.79 390.75,122.82 391.37,122.59 391.98,122.65 392.6,122.73 393.21,122.56 393.82,122.38 394.44,122.72 395.05,122.67 395.67,122.42 396.28,122.29 396.9,122.62 397.51,122.49 398.12,122.21 398.75,122.28 399.38,122.19 400,122.47 400.62,122.19 401.25,122.48 401.88,122.38 402.5,122.07 403.12,122.31 403.75,122.16 404.38,122.29 405,122.3 405.62,122.04 406.25,121.93 406.88,122.28 407.48,122.03 408.09,122.23 408.69,122.1 409.3,122.1 409.9,122.11 410.51,122 411.11,121.9 411.72,121.7 412.32,121.96 412.93,121.82 413.54,121.83 414.14,121.99 414.75,121.61 415.35,121.87 415.96,121.53 416.56,121.8 417.19,121.82 417.81,121.55 418.44,121.65 419.06,121.81 419.69,121.64 420.31,121.57 420.94,121.42 421.56,121.31 422.19,121.41 422.81,121.41 423.44,121.29 424.06,121.31 424.69,121.21 425.31,121.44 425.94,121.4 426.56,121.18 427.19,121.16 427.8,121.25 428.4,121.19 429.01,121.38 429.62,121.1 430.23,121.05 430.84,121.28 431.45,120.93 432.06,121.09 432.66,120.96 433.27,121.15 433.88,121 434.49,121.07 435.1,120.79 435.71,120.98 436.32,120.92 436.92,120.84 437.53,120.94 438.14,120.95 438.75,120.61 439.38,120.65 440,120.66 440.62,120.56 441.25,120.47 441.88,120.54 442.5,120.48 443.12,120.67 443.75,120.53 444.38,120.36 445,120.42 445.62,120.46 446.25,120.38 446.88,120.27 447.5,120.2 448.12,120.15 448.75,120.55 449.38,120.42 450,120.1 450.62,120.35 451.25,120.44 451.85,120.22 452.45,119.99 453.05,120.13 453.65,120.08 454.25,119.94 454.85,120.07 455.45,119.81 456.05,120.18 456.65,120.03 457.25,119.99 457.85,120.1 458.45,119.94 459.05,119.74 459.65,119.71 460.25,119.63 460.85,119.55 461.45,119.85 462.05,119.85 462.65,119.58 463.25,119.51 463.86,119.67 464.46,119.73 465.07,119.73 465.67,119.37 466.28,119.61 466.88,119.6 467.49,119.52 468.09,119.31 468.7,119.21 469.3,119.46 469.91,119.21 470.51,119.2 471.12,119.25 471.72,119.13 472.33,119.31 472.93,119.01 473.54,118.89 474.14,119.09 474.75,119.09 475.36,119.14 475.97,119.05 476.58,119.1 477.19,119.08 477.81,118.85 478.42,118.82 479.03,118.63 479.64,118.66 480.25,118.75 480.86,118.49 481.47,118.72 482.08,118.45 482.69,118.54 483.31,118.74 483.92,118.31 484.53,118.26 485.14,118.4 485.75,118.25 486.37,118.45 486.99,118.09 487.6,118.42 488.22,118.39 488.84,118.32 489.46,118.12 490.07,118.01 490.69,118.14 491.31,118.04 491.93,117.96 492.54,117.88 493.16,117.88 493.78,117.94 494.4,117.98 495.01,117.97 495.63,117.6 496.25,117.62 496.86,117.65 497.46,117.66 498.07,117.53 498.67,117.42 499.28,117.34 499.88,117.4 500.49,117.42 501.1,117.61 501.7,117.54 502.31,117.48 502.91,117.49 503.52,117.45 504.12,117.26 504.78,117.3 505.44,116.93 506.09,117.16 506.75,117.09 507.41,116.91 508.06,116.98 508.72,117.11 509.38,116.86 510.03,116.89 510.69,116.7 511.34,116.67 512,116.87" fill="none" stroke="#0000c8" stroke-width="2.0" stroke-linejoin="round" stroke-linecap="butt"/>
<polyline points="323.6,138.97 323.61,138.5 323.64,137.68 323.66,136.65 323.68,135.52 323.69,135.15 323.71,134.17 323.73,133.54 323.75,132.73 323.77,132.12 323.79,131.45 323.82,130.71 323.85,129.9 323.88,129.33 323.93,129.02 323.99,127.97 324.05,126.98 324.11,126.82 324.2,125.75 324.28,125 324.39,124.71 324.49,123.92 324.75,122.99 325.05,122.04 325.4,120.87 325.8,120.24 326.25,119.1 326.75,118.63 327.36,117.97 328.09,116.92 328.92,116.5 329.88,115.64 330.83,115.31 331.79,115.07 332.76,114.36 333.74,114.03 334.77,113.63 335.86,112.78 336.43,113.21 337,112.83 337.6,112.22 338.2,112.56 339.04,111.99 339.88,111.58 340.59,111.91 341.31,111.41 342.03,111.33 342.68,110.67 343.34,110.91 343.99,110.2 344.65,110.12 345.27,110.01 345.89,109.56 346.51,109.77 347.13,109.3 347.75,109.16 348.44,109.23 349.12,108.82 349.8,108.92 350.49,108.52 351.17,108.48 351.8,108.07 352.42,108.12 353.05,107.9 353.67,107.21 354.3,107.42 354.92,106.95 355.51,107.06 356.09,106.83 356.67,106.75 357.25,106.08 357.84,106.08 358.42,106.16 359,106.13 359.63,105.78 360.26,105.11 360.89,105.32 361.51,104.78 362.14,104.9 362.77,104.89 363.4,104.22 363.98,104.6 364.57,104.24 365.15,103.75 365.73,103.52 366.32,103.51 366.9,103.6 367.48,103.23 368.11,102.69 368.74,102.41 369.36,102.25 369.99,102.52 370.62,101.87 371.24,101.91 371.82,101.51 372.39,101.58 372.97,101.15 373.54,100.77 374.11,101.06 374.69,100.61 375.31,100.47 375.94,100.29 376.56,100.14 377.19,99.23 377.81,99.2 378.44,98.78 379.06,98.75 379.69,98.72 380.31,98.39 380.94,97.57 381.56,97.36 382.19,97.49 382.81,97.08 383.44,96.57 384.06,96.31 384.69,95.75 385.31,95.89 385.94,95.23 386.56,95.23 387.19,94.7 387.71,94.02 388.23,93.89 388.75,93.5 389.27,93.67 389.79,93.15 390.31,92.46 390.88,92.19 391.45,91.96 392.02,91.68 392.59,91.39 393.16,90.9 393.67,90.53 394.18,89.94 394.69,89.99 395.21,89.47 395.72,88.91 396.29,88.8 396.86,88.74 397.43,87.66 398,87.31 398.5,87.28 399,86.59 399.5,86.19 400,85.94 400.48,85.39 400.97,85.22 401.45,84.81 401.94,84.73 402.56,84.27 403.19,83.12 403.81,83.01 404.42,82.71 405.02,82.33 405.62,81.82 406.21,81.3 406.79,80.89 407.38,80.28 408.02,79.83 408.67,79.79 409.31,79.45 409.84,79.21 410.38,78.75 410.91,78.21 411.44,78.25 412.02,77.96 412.59,77.54 413.17,77.36 413.75,76.9 414.38,76.79 415,76.43 415.62,75.94 416.25,75.89 416.91,75.67 417.58,75.92 418.24,75.35 418.91,75.06 419.61,74.8 420.31,74.63 421.02,74.54 421.72,74.21 422.31,74.02 422.91,74.52 423.5,74.12 424.09,74.01 424.69,73.99 425.31,73.72 425.94,73.56 426.56,73.41 427.19,73.5 427.81,73.43 428.44,73.65 429.06,73.46 429.69,73.66 430.31,73.18 430.94,73.51 431.56,73.21 432.19,72.8 432.81,72.81 433.44,73.03 434.06,73.25 434.69,72.75 435.31,72.99 435.94,72.69 436.56,72.94 437.19,72.32 437.81,72.56 438.44,72.8 439.06,72.32 439.69,72.26 440.31,72.04 440.94,72.08 441.56,72.1 442.19,72.34 442.81,71.94 443.44,72.01 444.06,71.8 444.69,72.02 445.31,72.13 445.94,71.91 446.56,71.53 447.19,71.83 447.81,71.92 448.44,71.59 449.06,71.14 449.69,71.58 450.31,71.54 450.94,71.08 451.56,70.85 452.19,70.8 452.81,70.96 453.44,71.13 454.06,70.89 454.69,71.01 455.31,70.44 455.94,70.45 456.56,70.68 457.19,70.55 457.81,70.31 458.44,70.44 459.06,70.14 459.69,69.9 460.31,70.09 460.94,69.78 461.56,70.14 462.19,69.88 462.81,69.96 463.44,69.99 464.06,69.71 464.69,69.81 465.31,69.46 465.94,70.04 466.56,69.74 467.19,69.98 467.81,69.27 468.44,69.61 469.06,69.62 469.69,69.28 470.31,69.04 470.94,69.02 471.56,68.94 472.19,69.3 472.81,68.74 473.44,69.17 474.06,68.82 474.69,68.81 475.31,68.75 475.94,68.64 476.56,68.61 477.19,68.48 477.81,68.19 478.54,68.37 479.26,67.92 479.98,68.13 480.71,68.06 481.37,67.97 482.04,67.54 482.7,67.77 483.37,67.81 483.98,67.35 484.58,67.14 485.19,67.22 485.8,67.42 486.53,66.75 487.27,66.55 488,66.77 488.83,66.77 489.65,66.74 490.75,66.28 491.3,66.64" fill="none" stroke="#e800e8" stroke-width="2.0" stroke-linejoin="round" stroke-linecap="butt"/>
<polyline points="323.2,139.14 323.21,138.5 323.21,137.46 323.21,136.79 323.22,136.21 323.22,135.45 323.23,135 323.23,134.31 323.24,133.37 323.24,133.19 323.25,132.21 323.25,131.44 323.25,130.82 323.26,130.52 323.26,129.99 323.28,128.87 323.3,128.12 323.32,127.91 323.34,126.92 323.36,126.7 323.38,125.74 323.42,125.13 323.45,124.26 323.49,123.84 323.52,122.94 323.56,122.17 323.59,121.82 323.64,120.73 323.68,120.48 323.73,119.46 323.77,119.19 323.81,118.43 323.86,118.09 323.9,116.99 323.96,116.65 324.01,115.91 324.07,115.57 324.13,114.95 324.19,114.11 324.24,113.23 324.3,112.6 324.37,112 324.44,111.49 324.52,110.76 324.59,110.13 324.66,109.86 324.73,109.18 324.85,108.27 324.96,107.98 325.08,106.81 325.19,106.32 325.36,105.42 325.52,105.19 325.69,104.53 325.95,103.61 326.21,103.34 326.61,102.54 326.87,101.65 327,101.4" fill="none" stroke="#18e8e8" stroke-width="2.2" stroke-linejoin="round" stroke-linecap="butt"/>
<polygon points="325.5,103.72 325.78,103.11 326.06,102.67 326.34,101.82 326.55,101.67 326.77,101.29 326.98,100.86 327.19,100.39 327.41,99.59 327.64,99.34 327.86,98.83 328.09,98.6 328.31,98.19 328.55,97.72 328.78,97.22 329.01,96.79 329.25,96.31 329.48,95.88 329.72,95.35 329.97,94.81 330.21,94.14 330.45,93.91 330.69,93.44 330.9,92.94 331.11,92.63 331.32,91.99 331.53,91.68 331.74,91.25 331.95,90.76 332.17,90.63 332.38,90.02 332.6,89.63 332.82,89.38 333.03,88.89 333.25,88.55 333.46,88.05 333.66,87.74 333.87,87.06 334.08,86.88 334.29,86.53 334.49,85.86 334.73,85.59 334.97,85.08 335.21,84.5 335.44,84.16 335.68,83.72 335.91,83.04 336.13,82.49 336.36,82.31 336.59,81.79 336.81,81.16 337.03,80.63 337.24,80.08 337.46,79.95 337.67,79.29 337.89,78.43 338.09,78.55 338.3,78.08 338.5,77.61 338.71,77.2 338.91,76.53 339.11,76.36 339.3,75.63 339.5,75.2 339.69,74.91 339.89,74.15 340.07,74.09 340.26,73.58 340.44,73.04 340.63,72.32 340.81,72.24 340.99,71.69 341.16,71.01 341.34,70.9 341.51,70.27 341.69,69.94 341.9,69.37 342.11,68.97 342.32,68.05 342.53,67.48 342.73,67.26 342.94,66.67 343.14,66.62 343.34,66.09 343.6,65.4 343.86,65.17 344.12,64.46 344.38,63.74 344.62,63.43 344.88,63.3 345.15,63 345.42,62.34 345.69,61.71 346.12,61.68 346.56,60.68 347.03,60.55 347.5,60.29 348,59.4 348.5,59.51 348.9,59.25 349.3,59.04 349.71,58.58 350.18,57.91 350.65,58.23 351.12,57.87 351.52,57.72 351.93,56.96 352.33,56.73 352.74,57.08 353.19,56.67 353.65,56.61 354.11,55.85 354.56,56 355.04,55.91 355.52,55.72 356,54.84 356.48,54.97 356.98,54.97 357.48,54.46 357.98,53.98 358.48,53.55 358.89,54.06 359.31,53.82 359.73,53.63 360.15,53.33 360.56,52.83 361,52.49 361.43,52.83 361.87,52.23 362.3,51.78 362.74,52.02 363.2,51.4 363.66,51.05 364.12,51.63 364.59,51.27 365.05,50.79 365.54,50.41 366.03,50.65 366.52,50.48 367.01,49.96 367.5,49.49 367.93,49.83 368.36,49.36 368.79,49.06 369.23,49.33 369.66,49.11 370.09,48.89 370.54,48.57 371,47.54 371.45,48.01 371.9,47.87 372.36,47.84 372.81,47.5 373.24,47.43 373.66,47.11 374.09,46.77 374.51,46.71 374.94,46.18 375.36,45.66 375.84,46.12 376.31,45.99 376.79,45.64 377.26,45 377.74,44.41 378.18,45.02 378.62,44.89 379.06,44.15 379.5,43.81 379.94,44.28 380.44,43.23 380.95,43.06 381.46,43.71 381.96,42.58 382.39,43.09 382.81,42.98 383.24,42.55 383.66,42.52 384.09,42.05 384.53,41.51 384.98,41.87 385.42,41.13 385.87,41.43 386.31,40.79 386.7,40.07 387.09,40.07 387.48,40.19 387.86,40.21 388.25,39.74 388.64,39.59 389.04,38.87 389.45,38.65 389.85,38.39 390.25,38.65 390.66,38.32 391.06,38.05 391.5,37.37 391.93,37.04 392.37,37.23 392.81,36.92 393.24,36.62 393.63,35.96 394.02,36.03 394.41,34.59 394.79,35.52 395.18,34.86 395.6,34.68 396.03,33.65 396.45,33.35 396.87,33.8 397.24,33.6 397.6,33.4 397.96,33.12 398.33,32.57 398.69,31.7 399.06,31.89 399.42,31.49 399.79,31.69 400.16,31.41 400.52,30.47 400.89,30.79 401.26,29.69 401.63,30.19 402.01,29.44 402.38,29.09 402.75,28.75 403.12,28.94 403.5,28.5 403.88,28.11 404.25,28 404.62,27.45 404.98,26.55 405.35,27.02 405.72,26.32 406.08,25.88 406.44,25.63 406.8,25.28 407.16,25.08 407.51,25.06 407.86,23.89 408.21,22.88 408.56,24.08 408.91,22.96 409.25,23.46 409.59,22.23 409.94,22.81 410.27,21.14 410.61,21.91 410.94,21.55 411.27,21.29 411.71,20.64 412.14,20.58 412.58,20.21 413,19.88 413.42,18.91 413.84,18.66 414.25,18.29 414.65,18.03 415.06,17.97 415.52,17.2 415.98,16.81 416.59,16.58 416.9,16.3 416.9,20.21 416.59,20.75 415.98,20.54 415.52,21.58 415.06,21.73 414.65,22.08 414.25,22.1 413.84,22.48 413.42,22.86 413,23.24 412.58,23.62 412.14,24.03 411.71,24.41 411.27,25.32 410.94,25.76 410.61,26.1 410.27,26.58 409.94,26.32 409.59,26.89 409.25,26.71 408.91,27.44 408.56,28.22 408.21,28.32 407.86,28.55 407.51,28.48 407.16,28.66 406.8,29.2 406.44,29.8 406.08,29.62 405.72,30.44 405.35,30.3 404.98,30.73 404.62,31.31 404.25,31.33 403.88,31.55 403.5,31.86 403.12,32.18 402.75,32.65 402.38,33.69 402.01,33.18 401.63,33.44 401.26,34.36 400.89,34.63 400.52,34.54 400.16,34.67 399.79,35.33 399.42,35.62 399.06,35.56 398.69,36.65 398.33,36.59 397.96,36.87 397.6,37.2 397.24,36.98 396.87,37.68 396.45,37.54 396.03,38.49 395.6,38.5 395.18,38.99 394.79,39 394.41,39.31 394.02,39.92 393.63,39.69 393.24,40.53 392.81,40.35 392.37,40.84 391.93,40.75 391.5,41.99 391.06,41.39 390.66,41.62 390.25,42.38 389.85,42.83 389.45,42.68 389.04,43.4 388.64,43.3 388.25,43.93 387.86,43.57 387.48,43.96 387.09,44.05 386.7,44.72 386.31,44.89 385.87,44.76 385.42,45.37 384.98,45.22 384.53,45.73 384.09,45.73 383.66,46.71 383.24,46.53 382.81,46.32 382.39,47.2 381.96,46.79 381.46,47.01 380.95,47.2 380.44,48.3 379.94,47.6 379.5,47.82 379.06,48.11 378.62,48.21 378.18,49.3 377.74,49 377.26,48.88 376.79,49.57 376.31,49.57 375.84,49.47 375.36,50.73 374.94,50.17 374.51,51.01 374.09,50.72 373.66,50.9 373.24,51.05 372.81,51.71 372.36,51.38 371.9,51.94 371.45,51.51 371,51.76 370.54,52.19 370.09,52.94 369.66,52.44 369.23,53.02 368.79,52.96 368.36,53.05 367.93,53.21 367.5,53.54 367.01,53.83 366.52,54.16 366.03,54.04 365.54,54.72 365.05,54.98 364.59,54.73 364.12,55.54 363.66,55.06 363.2,55.33 362.74,55.61 362.3,56.12 361.87,55.79 361.43,55.97 361,56.68 360.56,56.65 360.15,56.68 359.73,57.47 359.31,56.81 358.89,57.43 358.48,57.28 357.98,57.91 357.48,57.95 356.98,58.05 356.48,58.46 356,58.16 355.52,58.48 355.04,59.01 354.56,59.26 354.11,59.58 353.65,59.17 353.19,59.46 352.74,59.72 352.33,59.76 351.93,60.11 351.52,60.78 351.12,60.43 350.65,60.87 350.18,60.97 349.71,61.08 349.3,61.74 348.9,61.69 348.5,62.39 348,62.14 347.5,63 347.03,63.08 346.56,63.31 346.12,63.87 345.69,64.89 345.42,64.64 345.15,65.13 344.88,65.61 344.62,66.74 344.38,66.24 344.12,66.65 343.86,67.49 343.6,67.59 343.34,68.32 343.14,68.5 342.94,68.94 342.73,69.62 342.53,69.97 342.32,70.29 342.11,70.88 341.9,71.75 341.69,72.04 341.51,72.27 341.34,72.71 341.16,73.12 340.99,73.67 340.81,73.99 340.63,74.77 340.44,74.97 340.26,75.35 340.07,76.27 339.89,76.22 339.69,76.83 339.5,77.21 339.3,77.7 339.11,78.32 338.91,78.72 338.71,78.87 338.5,79.65 338.3,80.14 338.09,80.3 337.89,80.92 337.67,81.16 337.46,81.74 337.24,81.99 337.03,82.48 336.81,82.9 336.59,83.32 336.36,83.85 336.13,84.23 335.91,84.72 335.68,85.28 335.44,85.84 335.21,86.13 334.97,86.81 334.73,87.43 334.49,87.61 334.29,87.93 334.08,88.6 333.87,89.05 333.66,89.4 333.46,89.64 333.25,89.94 333.03,90.57 332.82,90.92 332.6,91.23 332.38,91.66 332.17,92.18 331.95,92.54 331.74,93.23 331.53,93.29 331.32,93.91 331.11,94.08 330.9,94.82 330.69,95.05 330.45,95.74 330.21,96.03 329.97,96.42 329.72,96.77 329.48,97.35 329.25,97.72 329.01,98.56 328.78,98.73 328.55,99.32 328.31,99.63 328.09,100.33 327.86,100.46 327.64,100.91 327.41,101.36 327.19,102.16 326.98,102.24 326.77,103 326.55,103.07 326.34,103.51 326.06,104.38 325.78,104.71 325.5,105.51" fill="#18e8e8" stroke="#18e8e8" stroke-width="0.5" stroke-linejoin="round"/>
<path d="M360.26 144.5V140M360.26 4.8V9.3M398.12 144.5V140M398.12 4.8V9.3M435.98 144.5V140M435.98 4.8V9.3M473.84 144.5V140M473.84 4.8V9.3M322.4 124.54H326.9M511.7 124.54H507.2M322.4 104.59H326.9M511.7 104.59H507.2M322.4 84.63H326.9M511.7 84.63H507.2M322.4 64.67H326.9M511.7 64.67H507.2M322.4 44.71H326.9M511.7 44.71H507.2M322.4 24.76H326.9M511.7 24.76H507.2" stroke="#484848" stroke-width="1.1" fill="none"/>
<rect x="322.4" y="4.8" width="189.3" height="139.7" fill="none" stroke="#484848" stroke-width="1.6"/>
<text x="316" y="148.4" font-size="10.2" text-anchor="end" font-family="'Liberation Sans', Arial, sans-serif">0</text>
<text x="316" y="128.44" font-size="10.2" text-anchor="end" font-family="'Liberation Sans', Arial, sans-serif">1000</text>
<text x="316" y="108.49" font-size="10.2" text-anchor="end" font-family="'Liberation Sans', Arial, sans-serif">2000</text>
<text x="316" y="88.53" font-size="10.2" text-anchor="end" font-family="'Liberation Sans', Arial, sans-serif">3000</text>
<text x="316" y="68.57" font-size="10.2" text-anchor="end" font-family="'Liberation Sans', Arial, sans-serif">4000</text>
<text x="316" y="48.61" font-size="10.2" text-anchor="end" font-family="'Liberation Sans', Arial, sans-serif">5000</text>
<text x="316" y="28.66" font-size="10.2" text-anchor="end" font-family="'Liberation Sans', Arial, sans-serif">6000</text>
<text x="316" y="8.7" font-size="10.2" text-anchor="end" font-family="'Liberation Sans', Arial, sans-serif">7000</text>
<text x="323.8" y="159" font-size="10.2" text-anchor="middle" font-family="'Liberation Sans', Arial, sans-serif">0</text>
<text x="361.66" y="159" font-size="10.2" text-anchor="middle" font-family="'Liberation Sans', Arial, sans-serif">10</text>
<text x="399.52" y="159" font-size="10.2" text-anchor="middle" font-family="'Liberation Sans', Arial, sans-serif">20</text>
<text x="437.38" y="159" font-size="10.2" text-anchor="middle" font-family="'Liberation Sans', Arial, sans-serif">30</text>
<text x="475.24" y="159" font-size="10.2" text-anchor="middle" font-family="'Liberation Sans', Arial, sans-serif">40</text>
<text x="513.1" y="159" font-size="10.2" text-anchor="middle" font-family="'Liberation Sans', Arial, sans-serif">50</text>
<text x="417.75" y="173.9" font-size="10.3" text-anchor="middle" font-family="'Liberation Sans', Arial, sans-serif">Time (ps)</text>
<text x="394.1" y="194.5" font-size="14" text-anchor="middle" font-family="'Liberation Serif', 'Times New Roman', serif">(b)</text>
<text transform="translate(277.6,74.8) rotate(-90)" font-size="10.3" text-anchor="middle" font-family="'Liberation Sans', Arial, sans-serif">Temperature (K)</text>
<text x="481.8" y="19.4" font-size="10" text-anchor="end" font-family="'Liberation Sans', Arial, sans-serif">6km·s<tspan font-size="6.5" dy="-5.5">-1</tspan></text>
<line x1="488.3" y1="14.5" x2="499.5" y2="14.5" stroke="#e40000" stroke-width="1.6"/>
<text x="481.8" y="29.3" font-size="10" text-anchor="end" font-family="'Liberation Sans', Arial, sans-serif">7km·s<tspan font-size="6.5" dy="-5.5">-1</tspan></text>
<line x1="488.3" y1="24.6" x2="499.5" y2="24.6" stroke="#10d010" stroke-width="1.6"/>
<text x="481.8" y="39.4" font-size="10" text-anchor="end" font-family="'Liberation Sans', Arial, sans-serif">8km·s<tspan font-size="6.5" dy="-5.5">-1</tspan></text>
<line x1="488.3" y1="34.8" x2="499.5" y2="34.8" stroke="#0000c8" stroke-width="1.6"/>
<text x="481.8" y="49.6" font-size="10" text-anchor="end" font-family="'Liberation Sans', Arial, sans-serif">9km·s<tspan font-size="6.5" dy="-5.5">-1</tspan></text>
<line x1="488.3" y1="45.3" x2="499.5" y2="45.3" stroke="#e800e8" stroke-width="1.6"/>
<text x="481.8" y="59.9" font-size="10" text-anchor="end" font-family="'Liberation Sans', Arial, sans-serif">10km·s<tspan font-size="6.5" dy="-5.5">-1</tspan></text>
<line x1="488.3" y1="55.4" x2="499.5" y2="55.4" stroke="#18e8e8" stroke-width="1.6"/>
<line x1="49.2" y1="356.5" x2="49.2" y2="257.5" stroke="#18e8e8" stroke-width="1.6"/>
<line x1="50.6" y1="312" x2="50.6" y2="300" stroke="#e800e8" stroke-width="1.4"/>
<line x1="52.6" y1="356.5" x2="52.6" y2="314" stroke="#0000c8" stroke-width="1.5"/>
<line x1="54.0" y1="356.5" x2="54.0" y2="329" stroke="#10d010" stroke-width="1.5"/>
<polygon points="55.4,349 55.46,348.27 55.57,347.92 55.74,347.29 55.85,346.62 55.96,346.23 56.24,345.74 56.56,345.02 56.94,344.46 57.36,344.23 58.12,343.42 58.66,343.36 59.21,343.27 59.68,342.74 60.15,343.27 60.62,342.34 61.21,342.93 61.79,343.29 62.38,343.3 62.88,343.24 63.38,343.23 63.88,342.79 64.38,342.64 64.88,342.6 65.38,343.32 65.88,342.9 66.35,343.3 66.83,342.9 67.31,343.32 67.78,343.19 68.26,343.25 68.74,343.25 69.22,342.73 69.69,343.16 70.17,342.56 70.65,343.25 71.12,343.09 71.59,343.07 72.06,343.28 72.53,342.42 72.99,342.74 73.46,342.55 73.92,343.22 74.39,343.26 74.86,342.74 75.33,343.22 75.79,342.3 76.26,342.33 76.72,342.71 77.19,342.88 77.66,342.36 78.12,342.43 78.59,342.43 79.05,343.04 79.51,342.89 79.97,343.22 80.43,342.95 80.89,342.83 81.35,342.21 81.81,343.09 82.27,343.19 82.73,343.19 83.19,342.87 83.65,343.16 84.11,342.9 84.57,343.11 85.03,342.99 85.49,342.25 85.95,343.15 86.41,343.06 86.88,342.96 87.33,342.71 87.79,342.69 88.24,342.2 88.7,342.78 89.15,343.04 89.61,343.08 90.07,342.12 90.52,342.62 90.98,342.15 91.43,342.15 91.89,342.24 92.34,342.6 92.8,342.57 93.26,342.85 93.71,342.13 94.17,342.81 94.62,342.54 95.08,342.4 95.53,342.48 95.99,342.88 96.45,342.24 96.9,342.95 97.36,342.94 97.81,342.93 98.27,341.96 98.72,341.98 99.17,342.8 99.62,342.89 100.08,342.49 100.53,342.34 100.98,342 101.43,342.37 101.89,342.21 102.34,342.79 102.79,342.76 103.24,342.78 103.7,342.39 104.15,342.03 104.6,342.72 105.05,342.39 105.51,342.31 105.96,342.15 106.41,342.1 106.86,342.71 107.32,342.44 107.77,342.48 108.22,342.42 108.67,342.08 109.13,342.43 109.58,342.55 110.03,342.5 110.48,342.25 110.94,342.54 111.39,342.59 111.84,342.59 112.29,342.58 112.74,342.57 113.19,342.55 113.64,341.86 114.09,342.35 114.54,341.59 114.99,341.72 115.44,342.14 115.89,341.95 116.34,342.46 116.79,342.39 117.24,341.73 117.69,342.32 118.14,341.1 118.59,342.05 119.04,341.69 119.49,342.25 119.94,342.32 120.4,341.58 120.85,341.71 121.3,341.68 121.75,341.63 122.2,341.65 122.65,341.54 123.1,341.83 123.55,341.98 124,341.66 124.45,342.19 124.9,341.61 125.35,341.68 125.8,341.58 126.25,341.41 126.71,342.09 127.17,341.83 127.63,341.99 128.09,342.02 128.55,341.71 129.01,341.93 129.47,341.83 129.93,342.04 130.39,341.31 130.86,341.56 131.32,341.94 131.78,341.79 132.24,341.03 132.7,341.19 133.16,341.86 133.62,341.73 134.08,341.71 134.54,341.56 135,341.87 135.46,341.25 135.92,341.4 136.38,341.63 136.84,341.84 137.3,341.37 137.76,341.01 138.22,341.83 138.68,341.81 139.14,341.7 139.61,341.77 140.07,341.76 140.53,341.67 140.99,341.57 141.45,341.53 141.91,341.7 142.37,341.56 142.83,341.23 143.29,341.37 143.75,341.55 144.2,341.48 144.66,341.12 145.11,340.93 145.56,341.52 146.02,341.59 146.47,341.61 146.92,341.47 147.38,340.73 147.83,341.43 148.29,341.43 148.74,341.27 149.19,341.11 149.65,341.53 150.1,341.52 150.55,340.69 151.01,341.49 151.46,340.94 151.91,340.73 152.37,341.47 152.82,340.96 153.27,341.41 153.73,341.31 154.18,341.36 154.63,340.92 155.09,341.28 155.54,340.93 156,341.05 156.45,341.26 156.9,340.53 157.36,340.76 157.81,340.17 158.26,341.16 158.72,341.15 159.17,340.93 159.62,340.49 160.08,340.31 160.53,341.2 160.98,341.03 161.44,340.4 161.9,340.92 162.35,340.37 162.81,341.15 163.27,340.7 163.73,341.2 164.19,340.78 164.65,340.31 165.1,340.54 165.56,341.02 166.02,340.61 166.48,340.19 166.94,340.75 167.4,341.14 167.85,340.35 168.31,340.62 168.77,341.08 169.23,341.07 169.69,340.25 170.15,340.27 170.6,340.15 171.06,340.35 171.52,340.43 171.98,340.85 172.44,341.03 172.9,341.01 173.35,340.96 173.81,340.68 174.27,340.11 174.73,340.09 175.19,341 175.65,340.6 176.1,340.85 176.56,340.24 177.02,340.88 177.48,340.95 177.94,340.7 178.4,340.48 178.85,340.43 179.31,340 179.76,340.75 180.22,340.91 180.67,340.9 181.12,340.64 181.57,340.42 182.02,340.88 182.47,340.76 182.93,339.91 183.38,340.35 183.83,340.8 184.28,340.52 184.73,340.53 185.18,340.85 185.63,340.28 186.09,340.83 186.54,340.26 186.99,340.63 187.44,340.79 187.89,340.81 188.34,340.55 188.8,340.72 189.25,340.62 189.7,340.09 190.15,340.79 190.6,340.24 191.05,340.34 191.5,339.97 191.96,340.73 192.41,340.65 192.86,340.6 193.31,340.75 193.76,340.74 194.21,340.3 194.67,339.87 195.12,340.5 195.57,340.39 196.02,340.08 196.47,340.38 196.92,340.57 197.38,340.51 197.83,339.96 198.29,340.19 198.74,340.69 199.2,339.71 199.66,339.95 200.11,339.79 200.57,340.45 201.03,340.33 201.48,340.42 201.94,340.39 202.39,340.06 202.85,340.41 203.31,340.16 203.76,340.61 204.22,340.53 204.68,340.6 205.13,340.25 205.59,340.52 206.04,340.2 206.5,340.53 206.96,340.4 207.41,340.13 207.87,340.44 208.32,340.59 208.78,339.9 209.24,340.44 209.69,340.6 210.15,339.77 210.61,340.47 211.06,340.5 211.52,340.6 211.97,340.56 212.43,340.26 212.89,340.49 213.34,340.58 213.8,340.46 214.26,340.53 214.71,340.44 215.17,340.51 215.62,340.57 216.08,339.97 216.54,339.94 216.99,340.37 217.45,340.52 217.91,340.43 218.36,340.07 218.82,340.3 219.28,340.51 219.73,340.17 220.19,339.64 220.64,340.26 221.1,340.42 221.56,340.38 222.01,340.33 222.47,340.32 222.93,340.52 223.38,340.07 223.84,340.49 224.29,340.11 224.75,340.26 225.21,340.28 225.66,340.05 226.12,340.18 226.57,340.18 227.03,339.57 227.49,340.12 227.94,339.97 228.4,339.24 228.86,340.29 229.31,339.75 229.77,340.48 230.22,340.09 230.68,340.4 231.14,339.5 231.59,339.62 232.05,340.45 232.51,339.73 232.96,339.85 233.42,340.38 233.88,339.97 234.33,339.55 234.79,340.44 235.24,340.32 235.7,340.01 236.16,339.6 236.61,340.39 237.07,340.42 237.53,340.29 237.98,340.42 238.44,340.12 238.89,339.82 239.35,339.96 239.81,339.51 240.26,340.15 240.72,340.25 241.18,340.36 241.63,339.68 242.09,340.36 242.54,340.11 243,339.87 243,343.66 242.54,343.66 242.09,343.62 241.63,344.31 241.18,343.85 240.72,343.65 240.26,343.65 239.81,343.67 239.35,344.29 238.89,343.72 238.44,344 237.98,344.28 237.53,343.98 237.07,343.73 236.61,344.17 236.16,343.88 235.7,343.82 235.24,343.71 234.79,344.23 234.33,343.81 233.88,343.83 233.42,344.23 232.96,343.89 232.51,343.7 232.05,344.53 231.59,344.34 231.14,343.88 230.68,344.53 230.22,343.71 229.77,343.81 229.31,343.75 228.86,344.39 228.4,343.98 227.94,343.79 227.49,343.72 227.03,344.39 226.57,344.28 226.12,343.78 225.66,344.03 225.21,344.11 224.75,343.83 224.29,343.76 223.84,344.15 223.38,343.99 222.93,343.8 222.47,344.44 222.01,343.92 221.56,343.78 221.1,343.93 220.64,343.87 220.19,343.9 219.73,344.08 219.28,344.54 218.82,344.02 218.36,344.04 217.91,343.97 217.45,343.79 216.99,344.76 216.54,343.8 216.08,344.5 215.62,343.94 215.17,344.4 214.71,343.81 214.26,344.53 213.8,344.62 213.34,343.86 212.89,344.23 212.43,344.63 211.97,344.55 211.52,344.28 211.06,344.29 210.61,343.83 210.15,343.9 209.69,344.65 209.24,343.88 208.78,343.95 208.32,343.87 207.87,344.03 207.41,344.65 206.96,343.99 206.5,343.87 206.04,344.79 205.59,343.87 205.13,344.35 204.68,344.48 204.22,344.44 203.76,344.08 203.31,344.55 202.85,344.03 202.39,344.15 201.94,343.97 201.48,344.07 201.03,343.95 200.57,344.02 200.11,344.22 199.66,344.25 199.2,344.01 198.74,343.92 198.29,343.93 197.83,344.32 197.38,343.92 196.92,344.43 196.47,344.45 196.02,343.95 195.57,344.89 195.12,343.97 194.67,344.61 194.21,344.21 193.76,344.22 193.31,344.27 192.86,344.45 192.41,344.06 191.96,344 191.5,344 191.05,344.19 190.6,344.52 190.15,344.27 189.7,344.44 189.25,344.05 188.8,344.14 188.34,344.9 187.89,344.46 187.44,344.05 186.99,344.3 186.54,344.11 186.09,344.29 185.63,344.13 185.18,344.08 184.73,344.39 184.28,344.72 183.83,344.11 183.38,344.4 182.93,344.49 182.47,344.54 182.02,344.67 181.57,344.13 181.12,344.23 180.67,344.99 180.22,344.18 179.76,344.95 179.31,344.67 178.85,344.16 178.4,345.01 177.94,344.19 177.48,344.18 177.02,345.12 176.56,344.64 176.1,345.1 175.65,344.53 175.19,344.27 174.73,344.38 174.27,345.19 173.81,344.28 173.35,344.39 172.9,344.28 172.44,344.74 171.98,344.95 171.52,344.75 171.06,344.49 170.6,344.9 170.15,344.36 169.69,344.55 169.23,344.58 168.77,344.36 168.31,344.87 167.85,344.36 167.4,344.59 166.94,344.51 166.48,344.67 166.02,344.41 165.56,345.29 165.1,344.98 164.65,345.4 164.19,344.5 163.73,344.67 163.27,344.51 162.81,344.46 162.35,344.47 161.9,345.28 161.44,345.04 160.98,344.56 160.53,344.86 160.08,344.97 159.62,345.14 159.17,344.63 158.72,345.45 158.26,344.99 157.81,344.82 157.36,345.04 156.9,344.89 156.45,344.75 156,344.81 155.54,344.62 155.09,345.16 154.63,344.67 154.18,344.7 153.73,345.61 153.27,345.04 152.82,345.07 152.37,345.1 151.91,345.26 151.46,345.44 151.01,345.57 150.55,345.62 150.1,344.82 149.65,345.4 149.19,345.24 148.74,344.85 148.29,344.94 147.83,345.17 147.38,345.22 146.92,345.61 146.47,344.94 146.02,344.86 145.56,345.74 145.11,345.49 144.66,345.77 144.2,344.98 143.75,345.29 143.29,344.91 142.83,345.08 142.37,345.06 141.91,344.96 141.45,345.01 140.99,345.92 140.53,345.25 140.07,345.06 139.61,345.19 139.14,345.62 138.68,345.26 138.22,345.07 137.76,345.08 137.3,345.59 136.84,345.45 136.38,345.15 135.92,345.69 135.46,345.16 135,345.24 134.54,345.81 134.08,346.05 133.62,346 133.16,346.67 132.7,345.53 132.24,345.56 131.78,345.7 131.32,345.8 130.86,346.14 130.39,346.27 129.93,345.86 129.47,345.99 129.01,345.85 128.55,346.18 128.09,345.5 127.63,346.15 127.17,346.08 126.71,346.17 126.25,345.64 125.8,346.34 125.35,345.49 124.9,345.51 124.45,345.89 124,346.23 123.55,345.7 123.1,345.93 122.65,345.54 122.2,345.65 121.75,345.57 121.3,345.62 120.85,346.54 120.4,346.15 119.94,346.41 119.49,345.73 119.04,346.28 118.59,346.43 118.14,345.97 117.69,345.69 117.24,345.77 116.79,345.9 116.34,346.35 115.89,345.72 115.44,345.8 114.99,346.54 114.54,345.76 114.09,345.87 113.64,345.8 113.19,345.79 112.74,345.88 112.29,345.96 111.84,346.38 111.39,346.05 110.94,345.84 110.48,345.86 110.03,346.06 109.58,346.1 109.13,345.95 108.67,345.91 108.22,346.04 107.77,345.96 107.32,345.95 106.86,346.31 106.41,346.05 105.96,346.64 105.51,346.04 105.05,346.79 104.6,346.08 104.15,346.52 103.7,346.07 103.24,346.06 102.79,346.05 102.34,346.54 101.89,346.69 101.43,346.22 100.98,346.39 100.53,346.21 100.08,346.58 99.62,346.12 99.17,346.3 98.72,346.16 98.27,346.15 97.81,346.21 97.36,346.16 96.9,346.46 96.45,346.94 95.99,346.25 95.53,347.12 95.08,346.9 94.62,346.24 94.17,346.67 93.71,346.56 93.26,346.42 92.8,346.32 92.34,346.84 91.89,346.32 91.43,346.32 90.98,346.89 90.52,346.79 90.07,346.93 89.61,346.85 89.15,346.45 88.7,346.36 88.24,346.37 87.79,346.68 87.33,346.61 86.88,346.64 86.41,346.45 85.95,347.81 85.49,346.45 85.03,347.16 84.57,346.42 84.11,346.73 83.65,347.31 83.19,346.9 82.73,346.77 82.27,346.55 81.81,346.58 81.35,346.63 80.89,346.48 80.43,347.32 79.97,347.33 79.51,347.32 79.05,346.47 78.59,346.87 78.12,346.49 77.66,347.01 77.19,346.89 76.72,346.76 76.26,346.74 75.79,347.17 75.33,346.92 74.86,346.5 74.39,346.56 73.92,346.53 73.46,346.52 72.99,346.82 72.53,346.82 72.06,346.52 71.59,346.55 71.12,347.02 70.65,346.53 70.17,346.53 69.69,346.66 69.22,346.58 68.74,347.16 68.26,346.67 67.78,347.06 67.31,347.26 66.83,346.87 66.35,346.56 65.88,346.89 65.38,346.58 64.88,347.18 64.38,346.55 63.88,346.55 63.38,346.71 62.88,347.12 62.38,346.78 61.79,346.52 61.21,346.98 60.62,346.9 60.15,346.97 59.68,347.07 59.21,346.71 58.66,346.65 58.12,346.69 57.36,346.66 56.94,346.72 56.56,347.12 56.24,347.99 55.96,348.88 55.85,349.41 55.74,349.53 55.57,350.74 55.46,350.92 55.4,350.99" fill="#e40000" stroke="#e40000" stroke-width="0.5" stroke-linejoin="round"/>
<polygon points="54.2,331.24 54.31,330.59 54.54,331.07 54.88,330.61 55.32,329.83 55.91,329.59 56.64,329.41 57.5,328.51 58,329.21 58.5,328.91 58.96,328.72 59.43,328.03 59.89,327.85 60.36,328.74 60.82,327.89 61.29,327.55 61.75,327.91 62.21,328.22 62.67,327.52 63.12,328.82 63.58,328.28 64.04,328.5 64.5,328.31 64.96,328.74 65.42,328.67 65.88,327.47 66.33,327.45 66.79,328.67 67.25,328.89 67.71,328.59 68.16,328.46 68.62,328.79 69.07,328.56 69.53,328.07 69.99,328.04 70.44,328.18 70.9,328.76 71.35,328.41 71.81,328.72 72.26,327.96 72.72,328.25 73.18,328.05 73.63,328.41 74.09,328.25 74.54,328.77 75,328.75 75.45,328.55 75.91,327.26 76.36,328.65 76.82,327.2 77.27,328.73 77.73,328.14 78.18,328.72 78.64,328.07 79.09,327.28 79.55,327.96 80,328.2 80.45,327.25 80.91,327.6 81.36,327.32 81.82,327.72 82.27,327.69 82.73,328.63 83.18,328.49 83.64,328.58 84.09,328.51 84.55,327.65 85,328.43 85.46,328.54 85.91,328.1 86.37,327.15 86.83,327.95 87.28,327.58 87.74,328.56 88.2,328.53 88.65,327.96 89.11,328.07 89.57,328.55 90.02,327.9 90.48,328.24 90.94,328.52 91.39,327.8 91.85,328.14 92.31,328.2 92.76,327.03 93.22,328.49 93.68,328.22 94.13,328.39 94.59,327.82 95.05,326.91 95.5,328.44 95.96,327.69 96.42,327.91 96.88,327.83 97.33,328.04 97.79,327.41 98.25,327.21 98.71,327.18 99.17,327.31 99.62,328.14 100.08,328.18 100.54,327.04 101,328 101.46,327.72 101.92,326.71 102.38,327.11 102.83,327.64 103.29,328.2 103.75,328.11 104.21,326.85 104.67,328.06 105.12,326.44 105.58,327.85 106.04,327.97 106.5,328.04 106.96,327.43 107.42,327.79 107.88,328.1 108.33,328.17 108.79,327.24 109.25,326.63 109.71,327.98 110.17,327.62 110.62,328.09 111.08,327.34 111.54,327.18 112,327.15 112.46,328.05 112.92,328.05 113.38,328.03 113.84,327.07 114.3,327.93 114.76,327.57 115.22,327.86 115.68,327.82 116.14,327.61 116.6,327.64 117.06,327.84 117.52,327.9 117.98,327.7 118.44,327.89 118.9,327.22 119.36,327.58 119.82,326.54 120.28,326.54 120.74,326.32 121.19,327.62 121.65,327.49 122.11,326.98 122.57,327.58 123.03,326.4 123.49,327.77 123.95,326.26 124.41,327.71 124.87,327.46 125.33,327.42 125.79,327.72 126.25,326.48 126.71,327.24 127.17,326.99 127.63,326.62 128.09,326.99 128.55,327.64 129.01,327.32 129.47,326.58 129.93,326.59 130.39,327.1 130.86,327.13 131.32,326.82 131.78,326.37 132.24,327.45 132.7,327.33 133.16,326 133.62,326.3 134.08,326.56 134.54,327 135,326.53 135.46,327.34 135.92,327.13 136.38,326.97 136.84,327.25 137.3,326.56 137.76,327.36 138.22,327.27 138.68,325.98 139.14,326.85 139.61,327.33 140.07,326.32 140.53,327.15 140.99,327.22 141.45,327.22 141.91,327.12 142.37,327.06 142.83,326.88 143.29,326.64 143.75,327.21 144.2,326.11 144.66,327.13 145.11,327.12 145.56,327.15 146.02,326.17 146.47,327.12 146.92,325.78 147.38,326.94 147.83,326.65 148.29,326.17 148.74,325.67 149.19,326.93 149.65,327.08 150.1,326.72 150.55,327.06 151.01,326.33 151.46,325.61 151.91,326.46 152.37,326.47 152.82,325.68 153.27,325.46 153.73,325.73 154.18,326.01 154.63,326.96 155.09,325.86 155.54,326.57 156,325.94 156.45,326.82 156.9,326.41 157.36,324.37 157.81,326.75 158.26,325.57 158.72,326.05 159.17,326.8 159.62,326.82 160.08,325.36 160.53,326.02 160.98,326.42 161.44,326.15 161.9,326.3 162.35,326.52 162.81,326.52 163.27,326.79 163.73,326.24 164.19,325.59 164.65,326.61 165.1,326.67 165.56,326.41 166.02,325.59 166.48,325.23 166.94,326.73 167.4,326.04 167.85,326.13 168.31,326.62 168.77,326.63 169.23,326.4 169.69,326.52 170.15,326.11 170.6,325.25 171.06,326.18 171.52,325.4 171.98,326.54 172.44,326.35 172.9,326.62 173.35,325.74 173.81,325.7 174.27,326.53 174.73,326.39 175.19,326.41 175.65,326.54 176.1,326.13 176.56,326.58 177.02,326.11 177.48,326.45 177.94,325.81 178.4,326.56 178.85,325.5 179.31,325.04 179.76,325.04 180.22,325.87 180.67,326.52 181.12,325.89 181.57,326.51 182.02,326.33 182.47,326.42 182.93,326.11 183.38,326.46 183.83,326.03 184.28,325.86 184.73,326.46 185.18,326.36 185.63,325.75 186.09,325.81 186.54,326.23 186.99,326 187.44,326.3 187.89,325.56 188.34,326.44 188.8,326.3 189.25,325.68 189.7,326.3 190.15,326.23 190.6,326.11 191.05,326.03 191.5,325.69 191.96,325.95 192.41,325.43 192.86,324.98 193.31,325.94 193.76,326.4 194.21,325.71 194.67,324.09 195.12,325.46 195.57,326.36 196.02,326.15 196.47,325.44 196.92,326.02 197.38,325.65 197.83,325.2 198.29,325.59 198.74,326.2 199.2,324.84 199.66,326.37 200.11,326.06 200.57,325.89 201.03,326.19 201.48,325.31 201.94,326.35 202.39,324.94 202.85,326.25 203.31,325.66 203.76,325.52 204.22,326.03 204.68,325.77 205.13,325.23 205.59,326.25 206.04,326.36 206.5,326.34 206.96,326.19 207.41,325.81 207.87,325.52 208.32,326.14 208.78,326.25 209.24,325.86 209.69,324.95 210.15,326.35 210.61,326.14 211.06,325.68 211.52,325.59 211.97,324.79 212.43,324.88 212.89,325.92 213.34,325.23 213.8,325.63 214.26,325.82 214.71,326.28 215.17,326.33 215.62,326.23 216.08,326.28 216.54,326.12 216.99,325.79 217.45,325.58 217.91,324.81 218.36,326.28 218.82,325.34 219.28,326 219.73,325.62 220.19,325.42 220.64,325.74 221.1,325.85 221.56,326.15 222.01,326.22 222.47,324.94 222.93,326.25 223.38,326.17 223.84,323.99 224.29,325.67 224.75,325.68 225.21,324.87 225.66,325.54 226.12,326.14 226.57,326.16 227.03,325.36 227.49,326 227.94,325.46 228.4,325.22 228.86,326.19 229.31,326.11 229.77,324.07 230.22,326.27 230.68,324.44 231.14,325.18 231.59,325.15 232.05,324.78 232.51,325.76 232.96,324.84 233.42,326.12 233.88,325.99 234.33,325.51 234.79,326.01 235.24,326.13 235.7,326.02 236.16,326.13 236.61,325.44 237.07,325.21 237.53,326.03 237.98,325.65 238.44,325.87 238.89,325.91 239.35,325.73 239.81,324.77 240.26,326.19 240.72,325.88 241.18,326.2 241.63,326.1 242.09,326.26 242.54,326.26 243,326.19 243,332.39 242.54,331.43 242.09,332.44 241.63,331.61 241.18,331.35 240.72,331.35 240.26,332.83 239.81,332.33 239.35,333.19 238.89,332.64 238.44,331.36 237.98,332.71 237.53,331.47 237.07,331.96 236.61,331.95 236.16,331.38 235.7,331.86 235.24,332.48 234.79,332.23 234.33,331.79 233.88,331.39 233.42,331.55 232.96,331.38 232.51,332.89 232.05,331.64 231.59,332.04 231.14,332.45 230.68,331.4 230.22,332.2 229.77,332.41 229.31,331.57 228.86,333.67 228.4,332.09 227.94,332.97 227.49,332.91 227.03,331.62 226.57,331.97 226.12,333.54 225.66,332.34 225.21,331.59 224.75,331.46 224.29,331.68 223.84,332.09 223.38,331.75 222.93,331.58 222.47,331.7 222.01,332.14 221.56,331.48 221.1,332.65 220.64,331.68 220.19,331.75 219.73,331.62 219.28,332.72 218.82,331.46 218.36,331.66 217.91,331.57 217.45,331.43 216.99,332.91 216.54,331.42 216.08,331.42 215.62,332.43 215.17,331.43 214.71,331.68 214.26,331.45 213.8,332.57 213.34,331.68 212.89,332.92 212.43,332.76 211.97,332.42 211.52,331.62 211.06,331.44 210.61,331.96 210.15,331.7 209.69,332.63 209.24,331.64 208.78,331.44 208.32,332.99 207.87,332.95 207.41,332.5 206.96,331.59 206.5,332.55 206.04,331.64 205.59,332.29 205.13,332.48 204.68,331.5 204.22,331.58 203.76,332.19 203.31,331.94 202.85,331.46 202.39,332.18 201.94,331.73 201.48,331.46 201.03,332.94 200.57,331.77 200.11,331.47 199.66,331.97 199.2,332.12 198.74,332.26 198.29,331.84 197.83,332.9 197.38,331.78 196.92,332.46 196.47,332.2 196.02,331.84 195.57,331.92 195.12,331.52 194.67,331.5 194.21,332.14 193.76,332.82 193.31,331.96 192.86,331.51 192.41,331.66 191.96,331.72 191.5,331.77 191.05,332.39 190.6,332.56 190.15,331.72 189.7,331.57 189.25,332.53 188.8,331.8 188.34,331.65 187.89,332 187.44,332.91 186.99,331.81 186.54,331.59 186.09,331.73 185.63,332.55 185.18,332.71 184.73,332.15 184.28,332.66 183.83,332.41 183.38,331.68 182.93,331.65 182.47,331.64 182.02,331.66 181.57,333.12 181.12,332.34 180.67,331.68 180.22,331.82 179.76,331.73 179.31,332.51 178.85,332.17 178.4,331.69 177.94,332.87 177.48,331.84 177.02,331.83 176.56,331.78 176.1,331.68 175.65,331.73 175.19,332.45 174.73,331.81 174.27,333.2 173.81,332.99 173.35,331.98 172.9,331.8 172.44,333.02 171.98,332.7 171.52,332.16 171.06,331.8 170.6,331.95 170.15,331.79 169.69,333.17 169.23,332.82 168.77,331.97 168.31,333.14 167.85,331.82 167.4,332.16 166.94,332.65 166.48,332.62 166.02,332.98 165.56,332.07 165.1,331.95 164.65,331.86 164.19,333.24 163.73,332.77 163.27,332.69 162.81,332.1 162.35,332.38 161.9,331.92 161.44,332.44 160.98,332.41 160.53,332.79 160.08,331.96 159.62,332.13 159.17,332.43 158.72,332.86 158.26,332.34 157.81,332.65 157.36,332.07 156.9,333.24 156.45,332.1 156,332.05 155.54,332.41 155.09,332.88 154.63,333.6 154.18,333.46 153.73,332.76 153.27,332.94 152.82,332.21 152.37,334.03 151.91,332.11 151.46,332.13 151.01,332.41 150.55,332.52 150.1,333.18 149.65,333.52 149.19,332.9 148.74,332.2 148.29,333.07 147.83,333.58 147.38,333.67 146.92,332.4 146.47,332.31 146.02,332.26 145.56,332.29 145.11,333.05 144.66,332.88 144.2,332.47 143.75,333.06 143.29,332.32 142.83,332.49 142.37,333.64 141.91,332.78 141.45,332.46 140.99,332.39 140.53,332.38 140.07,333.65 139.61,332.58 139.14,332.52 138.68,332.56 138.22,332.86 137.76,333.34 137.3,333 136.84,332.67 136.38,333.06 135.92,333.35 135.46,333.22 135,333.27 134.54,334.3 134.08,332.72 133.62,332.58 133.16,333.51 132.7,333.51 132.24,333.39 131.78,333.59 131.32,333.75 130.86,333.3 130.39,332.73 129.93,333.24 129.47,333.02 129.01,332.8 128.55,333.57 128.09,332.82 127.63,332.89 127.17,333.51 126.71,333.22 126.25,332.88 125.79,332.84 125.33,334.31 124.87,332.93 124.41,334.21 123.95,333.12 123.49,333.28 123.03,333.5 122.57,333.16 122.11,332.91 121.65,333.17 121.19,333.99 120.74,332.94 120.28,333.59 119.82,333.32 119.36,333.31 118.9,333.13 118.44,333.63 117.98,334.1 117.52,333.31 117.06,333.05 116.6,333.54 116.14,333.28 115.68,333.19 115.22,333.2 114.76,333.85 114.3,334.07 113.84,333.43 113.38,333.22 112.92,334.02 112.46,333.34 112,333.5 111.54,333.32 111.08,333.89 110.62,334.35 110.17,333.33 109.71,333.95 109.25,333.4 108.79,334.17 108.33,334.42 107.88,334.64 107.42,333.3 106.96,333.81 106.5,333.33 106.04,333.77 105.58,334.68 105.12,334.69 104.67,334.34 104.21,333.44 103.75,333.89 103.29,334.14 102.83,334.37 102.38,334.03 101.92,334.79 101.46,333.76 101,333.89 100.54,334.69 100.08,333.9 99.62,333.58 99.17,334.71 98.71,334.16 98.25,335 97.79,334.05 97.33,333.76 96.88,333.52 96.42,333.52 95.96,334.98 95.5,333.54 95.05,334.26 94.59,333.95 94.13,333.71 93.68,334.69 93.22,333.94 92.76,333.63 92.31,334.57 91.85,333.78 91.39,334.85 90.94,334.22 90.48,333.96 90.02,334.32 89.57,333.82 89.11,333.82 88.65,334.22 88.2,334.45 87.74,334.13 87.28,334.44 86.83,334.82 86.37,333.92 85.91,334.11 85.46,333.72 85,333.73 84.55,333.96 84.09,334.52 83.64,334.87 83.18,333.77 82.73,333.8 82.27,334.87 81.82,334.12 81.36,334.86 80.91,333.87 80.45,334.73 80,334.21 79.55,334.65 79.09,334.04 78.64,334.55 78.18,334.49 77.73,333.88 77.27,334.99 76.82,334.49 76.36,334.87 75.91,335.08 75.45,334.11 75,334.26 74.54,334.86 74.09,334.01 73.63,333.93 73.18,334.42 72.72,335.05 72.26,333.91 71.81,334 71.35,333.94 70.9,333.93 70.44,334.28 69.99,334.73 69.53,333.95 69.07,335.26 68.62,335.21 68.16,334.25 67.71,334.88 67.25,334.29 66.79,334.88 66.33,334.16 65.88,334.24 65.42,334.04 64.96,334.08 64.5,335.41 64.04,335.07 63.58,334.19 63.12,334.63 62.67,334.76 62.21,334.92 61.75,334.45 61.29,334.12 60.82,334.15 60.36,334.67 59.89,334.43 59.43,334.55 58.96,334.51 58.5,334.38 58,335.18 57.5,335.3 56.64,334.57 55.91,335.85 55.32,335.39 54.88,335.8 54.54,337.26 54.31,336.45 54.2,336.9" fill="#10d010" stroke="#10d010" stroke-width="0.5" stroke-linejoin="round"/>
<polygon points="52.8,316.49 52.94,316.16 53.21,315.59 53.62,315.01 54.18,315.97 54.9,314.4 55.35,315.34 55.8,315 56.34,315.05 56.88,314.39 57.5,314.18 58.12,314.51 58.74,314.35 59.35,314.2 59.95,314.05 60.55,313.4 61.14,313.48 61.72,312.6 62.3,311.9 62.88,312.92 63.4,313.39 63.92,312.5 64.45,312.19 64.97,311.68 65.47,312.88 65.98,312.82 66.49,313 66.99,313.16 67.5,313.01 68.01,311.79 68.5,313.01 69,311.32 69.5,312.26 70,313 70.49,312.97 70.99,312.8 71.49,311.43 71.99,311.1 72.48,312.85 72.97,311.67 73.47,311.58 73.96,312.66 74.45,312.71 74.94,312.69 75.44,312.58 75.93,312 76.42,312.66 76.91,312.6 77.39,312.2 77.86,312.42 78.33,310.77 78.8,312.43 79.28,312.05 79.75,312.49 80.22,312.42 80.7,311.77 81.17,310.85 81.64,312.42 82.12,310.65 82.59,311.89 83.06,311.99 83.52,312.32 83.98,311.57 84.45,312.28 84.91,310.44 85.37,312.24 85.83,312.25 86.29,312.1 86.75,310.71 87.21,311.51 87.67,312.15 88.13,312.13 88.59,311.9 89.05,311.52 89.52,311.48 89.98,311.45 90.44,312.06 90.89,310.79 91.34,311.91 91.8,310.92 92.25,310.69 92.7,311.21 93.15,311.1 93.61,311.89 94.06,311.29 94.51,311.91 94.96,311.32 95.42,311.73 95.87,311.86 96.32,311.36 96.77,311.81 97.23,310.06 97.68,310.49 98.13,310.25 98.58,310.16 99.04,311.72 99.51,311.68 99.97,311.7 100.44,310.26 100.91,311.47 101.38,310.85 101.84,311.63 102.31,311.17 102.78,309.8 103.25,311.39 103.72,311.43 104.18,311.51 104.65,311.4 105.12,311.35 105.59,310.38 106.06,311.05 106.52,310.57 106.99,310.85 107.46,310.33 107.93,311.42 108.39,311.36 108.86,310.6 109.33,310.07 109.8,311.23 110.26,309.91 110.73,309.88 111.2,310.77 111.66,310.45 112.13,309.52 112.6,311.02 113.06,310.16 113.53,311.22 114,309.52 114.46,310.5 114.93,310.98 115.4,310.36 115.86,310.9 116.33,310.38 116.8,311.07 117.26,309.93 117.73,309.81 118.2,311 118.66,309.91 119.13,311.02 119.6,310.78 120.06,310.26 120.53,310.84 120.99,310.93 121.46,310.95 121.93,310.93 122.39,310.59 122.86,310.6 123.32,310.82 123.79,309.9 124.25,309.26 124.72,310.31 125.19,309.89 125.65,309.85 126.12,310.77 126.58,309.96 127.05,310.65 127.51,310.12 127.98,310.39 128.45,310.7 128.91,309.94 129.38,310.42 129.84,310.59 130.31,308.95 130.77,309.33 131.24,309.2 131.7,310.27 132.17,310.56 132.63,310.42 133.1,310.48 133.56,310.53 134.03,310.45 134.49,309.63 134.96,309.57 135.42,308.84 135.89,309.99 136.35,310.23 136.82,309.12 137.28,310.35 137.75,308.9 138.21,309.6 138.68,309.87 139.14,308.99 139.61,310.26 140.07,310.24 140.54,309.6 141,309.43 141.46,309.2 141.93,308.52 142.39,309.4 142.86,309.95 143.32,307.69 143.78,310.19 144.25,310.1 144.71,309.87 145.18,309.68 145.64,309.26 146.1,309.06 146.57,310.1 147.03,310.04 147.5,308.72 147.96,309.09 148.42,309.77 148.89,309.12 149.35,310.03 149.82,308.3 150.28,309.96 150.74,309.85 151.21,308.45 151.67,309.93 152.14,309.38 152.6,308.38 153.06,308.99 153.51,309.75 153.97,308.86 154.43,309.62 154.89,309.82 155.34,308.52 155.8,309.85 156.26,308.76 156.72,309.8 157.17,309.59 157.63,308.48 158.09,309.2 158.55,309.69 159,308.68 159.46,308.43 159.92,308.85 160.37,309.7 160.83,308.99 161.29,309.3 161.75,309.22 162.2,309.62 162.66,308.24 163.12,309.68 163.58,309.16 164.03,308.11 164.49,308.19 164.95,308.19 165.41,308.43 165.86,308.41 166.31,308.6 166.77,309.12 167.22,308.26 167.67,308.06 168.12,307.82 168.58,308.66 169.03,308.37 169.48,309.29 169.93,307.71 170.39,309.52 170.84,308.67 171.29,309 171.74,308.89 172.19,309.31 172.65,308.6 173.1,309.11 173.55,308.44 174,307.64 174.46,309.34 174.91,309.27 175.36,309.39 175.81,308.1 176.26,308.31 176.72,309.3 177.17,308.88 177.62,309.27 178.07,307.83 178.53,308.01 178.98,309.38 179.43,309.26 179.88,309.35 180.34,309.35 180.79,308.16 181.25,308.1 181.71,309.26 182.17,309.33 182.63,308.5 183.09,307.92 183.55,309.32 184.01,308.68 184.47,309.18 184.93,308.81 185.4,308.83 185.86,308.82 186.32,308.15 186.78,309.11 187.24,307.44 187.7,307.69 188.16,309.02 188.62,309.23 189.08,308.87 189.54,308.17 190,309.18 190.46,309.22 190.92,307.39 191.39,308.18 191.85,308.33 192.31,308.67 192.77,307.44 193.23,307.46 193.69,308.38 194.15,309.2 194.61,308.04 195.07,309.16 195.53,308.04 195.99,309.19 196.45,308.1 196.91,307.83 197.38,309.17 197.83,308.21 198.29,307.46 198.74,307.67 199.2,307.57 199.66,308.71 200.11,308.95 200.57,308.11 201.03,309.12 201.48,308.87 201.94,308.35 202.39,308.84 202.85,308.53 203.31,308.51 203.76,308.2 204.22,308.69 204.68,308.35 205.13,308.59 205.59,307.72 206.04,309.09 206.5,309.03 206.96,308.18 207.41,307.92 207.87,309.1 208.32,308.93 208.78,309.07 209.24,308.67 209.69,309.03 210.15,307.96 210.61,307.31 211.06,308.73 211.52,309.06 211.97,308.6 212.43,308.8 212.89,309.07 213.34,308.05 213.8,307.38 214.26,307.41 214.71,307.92 215.17,309.04 215.62,308.99 216.08,307.8 216.54,308.72 216.99,308.89 217.45,307.61 217.91,308.09 218.36,308.85 218.82,308.81 219.28,307.19 219.73,308.51 220.19,308.58 220.64,308.12 221.1,309 221.56,308.97 222.01,308.91 222.47,309 222.93,308.67 223.38,308.79 223.84,307.77 224.29,307.67 224.75,308.54 225.21,308.68 225.66,308.48 226.12,308.91 226.57,308.84 227.03,308.97 227.49,308.95 227.94,307.76 228.4,308.93 228.86,308.93 229.31,307.9 229.77,308.87 230.22,308.29 230.68,308.76 231.14,308.5 231.59,307.63 232.05,308.28 232.51,308.91 232.96,307.31 233.42,307.89 233.88,307.9 234.33,308.79 234.79,307.88 235.24,308.57 235.7,308.75 236.16,308.03 236.61,307.94 237.07,308.87 237.53,308.63 237.98,308.89 238.44,307.77 238.89,308.89 239.35,307.48 239.81,307.42 240.26,308.34 240.72,308.01 241.18,308.68 241.63,307.81 242.09,308.86 242.54,308.65 243,308 243,316.46 242.54,315.63 242.09,315.49 241.63,315.23 241.18,316.53 240.72,316.51 240.26,316.27 239.81,314.97 239.35,314.96 238.89,315.54 238.44,316.34 237.98,315.71 237.53,315.5 237.07,316.53 236.61,315.17 236.16,316.11 235.7,316.93 235.24,315.23 234.79,316.24 234.33,315.13 233.88,315.38 233.42,315.66 232.96,315.82 232.51,316.59 232.05,316.78 231.59,315.85 231.14,315.06 230.68,315.85 230.22,315.53 229.77,315.15 229.31,315.45 228.86,315.19 228.4,315.15 227.94,315.05 227.49,315.89 227.03,315.15 226.57,316.22 226.12,315.48 225.66,315.11 225.21,315.52 224.75,315.45 224.29,315.86 223.84,316.24 223.38,316.91 222.93,315.08 222.47,316.03 222.01,315.17 221.56,315.44 221.1,315.15 220.64,315.65 220.19,316.18 219.73,315.69 219.28,315.34 218.82,315.43 218.36,316.38 217.91,315.48 217.45,315.7 216.99,315.17 216.54,315.53 216.08,316.84 215.62,315.73 215.17,315.64 214.71,315.91 214.26,316.36 213.8,316.81 213.34,315.14 212.89,315.21 212.43,316.09 211.97,316.21 211.52,315.48 211.06,315.67 210.61,316.09 210.15,315.19 209.69,315.18 209.24,315.43 208.78,316.02 208.32,316.58 207.87,315.21 207.41,315.99 206.96,316.82 206.5,315.23 206.04,316.67 205.59,315.21 205.13,315.21 204.68,316.32 204.22,316.3 203.76,316.19 203.31,315.87 202.85,316.27 202.39,316.69 201.94,315.44 201.48,315.27 201.03,315.72 200.57,316.69 200.11,315.52 199.66,315.24 199.2,316.02 198.74,315.48 198.29,316.14 197.83,316.12 197.38,315.66 196.91,316.18 196.45,315.33 195.99,315.28 195.53,315.82 195.07,315.55 194.61,315.43 194.15,315.35 193.69,315.4 193.23,316.34 192.77,315.34 192.31,315.31 191.85,315.35 191.39,316.75 190.92,315.52 190.46,316.12 190,315.55 189.54,316.17 189.08,316.33 188.62,316.56 188.16,316.79 187.7,315.41 187.24,316.37 186.78,315.6 186.32,316.24 185.86,316.26 185.4,316.02 184.93,316.8 184.47,316.78 184.01,315.85 183.55,316.87 183.09,316.15 182.63,315.52 182.17,316.2 181.71,316.99 181.25,315.45 180.79,316.76 180.34,316.64 179.88,315.66 179.43,315.88 178.98,316.37 178.53,317.26 178.07,315.51 177.62,315.55 177.17,316.14 176.72,316.19 176.26,316.36 175.81,315.54 175.36,317.35 174.91,316.33 174.46,317.24 174,316.26 173.55,316.74 173.1,315.6 172.65,315.99 172.19,316.6 171.74,316.48 171.29,315.61 170.84,315.67 170.39,316.88 169.93,315.64 169.48,316.01 169.03,317.04 168.58,316.91 168.12,315.73 167.67,316.48 167.22,316.57 166.77,315.76 166.31,316.52 165.86,317.53 165.41,316.58 164.95,315.72 164.49,315.89 164.03,316.45 163.58,316.2 163.12,317.37 162.66,316.77 162.2,315.87 161.75,315.91 161.29,316.22 160.83,316.36 160.37,316.79 159.92,316.14 159.46,316.32 159,316.46 158.55,315.93 158.09,316.39 157.63,315.94 157.17,316.91 156.72,316.14 156.26,316.73 155.8,318.81 155.34,317.74 154.89,317.26 154.43,316.38 153.97,317.06 153.51,316.39 153.06,317.21 152.6,316.69 152.14,316.19 151.67,316.53 151.21,316.41 150.74,316.55 150.28,317.42 149.82,316.17 149.35,317.83 148.89,316.36 148.42,316.46 147.96,316.53 147.5,316.23 147.03,317.23 146.57,316.74 146.1,316.76 145.64,316.25 145.18,316.78 144.71,316.92 144.25,316.3 143.78,317.61 143.32,316.3 142.86,317.49 142.39,317.64 141.93,318.03 141.46,317.03 141,316.67 140.54,317.33 140.07,317.32 139.61,316.73 139.14,316.44 138.68,316.45 138.21,317.17 137.75,316.48 137.28,316.5 136.82,316.78 136.35,316.68 135.89,316.55 135.42,316.84 134.96,317.03 134.49,317.34 134.03,316.67 133.56,317.06 133.1,317.42 132.63,317.27 132.17,318.08 131.7,316.72 131.24,317.4 130.77,316.71 130.31,318.45 129.84,316.78 129.38,317.02 128.91,316.79 128.45,317.04 127.98,317.5 127.51,316.94 127.05,316.9 126.58,317.07 126.12,316.91 125.65,317.68 125.19,317.06 124.72,317.06 124.25,317.1 123.79,316.95 123.32,317 122.86,317.49 122.39,318.06 121.93,317.8 121.46,318.66 120.99,317.52 120.53,317.57 120.06,317.44 119.6,317.37 119.13,317.31 118.66,317.28 118.2,317.35 117.73,318.37 117.26,318.84 116.8,318.26 116.33,317.21 115.86,317.64 115.4,317.25 114.93,317.25 114.46,317.79 114,318.06 113.53,318.63 113.06,317.56 112.6,317.34 112.13,317.49 111.66,317.58 111.2,317.84 110.73,317.41 110.26,318.29 109.8,317.74 109.33,317.99 108.86,318.14 108.39,318.84 107.93,319.34 107.46,318.08 106.99,318.02 106.52,317.58 106.06,318.39 105.59,317.58 105.12,317.61 104.65,319.37 104.18,318.07 103.72,317.98 103.25,318.48 102.78,318.22 102.31,317.71 101.84,319.12 101.38,318.51 100.91,317.79 100.44,317.78 99.97,318.36 99.51,320.3 99.04,318.21 98.58,319.22 98.13,318.4 97.68,318.54 97.23,318.35 96.77,317.9 96.32,318.34 95.87,318.17 95.42,318.35 94.96,319.54 94.51,318.75 94.06,318.02 93.61,318.27 93.15,318.25 92.7,318.8 92.25,319.58 91.8,318.55 91.34,318.59 90.89,318.53 90.44,318.62 89.98,318.35 89.52,319.99 89.05,319.56 88.59,319.94 88.13,318.35 87.67,318.34 87.21,318.97 86.75,319.78 86.29,319.71 85.83,318.33 85.37,319.04 84.91,319.03 84.45,319.55 83.98,320.15 83.52,318.44 83.06,318.64 82.59,319 82.12,319.53 81.64,318.52 81.17,318.62 80.7,318.56 80.22,319.51 79.75,318.97 79.28,320.35 78.8,319.66 78.33,318.66 77.86,319.96 77.39,318.73 76.91,319.2 76.42,320.15 75.93,320.14 75.44,320.37 74.94,319.24 74.45,320.26 73.96,318.91 73.47,319.3 72.97,318.94 72.48,319.26 71.99,318.99 71.49,319.08 70.99,320.59 70.49,320.08 70,320.79 69.5,319.77 69,319.5 68.5,319.42 68.01,320.37 67.5,319.46 66.99,319.27 66.49,319.77 65.98,319.35 65.47,319.9 64.97,320.63 64.45,319.58 63.92,320.48 63.4,320.49 62.88,319.96 62.3,321.44 61.72,320.32 61.14,320.43 60.55,320.22 59.95,321.25 59.35,320.29 58.74,320.53 58.12,320.83 57.5,320.84 56.88,322.33 56.34,321.31 55.8,321.37 55.35,322.15 54.9,323.02 54.18,322.32 53.62,324 53.21,322.77 52.94,323.79 52.8,323.62" fill="#0000c8" stroke="#0000c8" stroke-width="0.5" stroke-linejoin="round"/>
<polygon points="50.8,298.89 50.94,298.91 51.21,298.38 51.62,298.14 52.18,295.99 52.83,297.02 53.2,296.84 53.58,295.5 54,295.99 54.43,294.67 54.9,294.55 55.38,295.54 55.97,295.61 56.57,295.21 57.06,293.12 57.54,294.65 58.02,294.92 58.59,294.74 59.16,292.55 59.72,294.42 60.21,294.29 60.7,292.92 61.19,292.88 61.67,292.77 62.12,293.63 62.57,293.67 63.02,293.47 63.47,291.98 63.92,291.43 64.37,291.55 64.86,293.33 65.35,291.08 65.84,292.88 66.33,292.56 66.82,292.5 67.32,292.43 67.81,292.59 68.27,292.46 68.74,292.39 69.2,292.63 69.66,290.82 70.13,291.36 70.59,290.82 71.06,291.82 71.52,291.84 71.99,290.41 72.44,291.38 72.88,291.1 73.33,291.14 73.78,290.22 74.23,290.19 74.67,290.71 75.12,291.52 75.57,291.75 76.02,290.79 76.46,291.32 76.91,289.98 77.36,291.45 77.81,291.39 78.26,290.2 78.7,291.04 79.15,290.55 79.6,291.23 80.05,288.61 80.49,289.64 80.94,290.52 81.39,290.5 81.84,288.23 82.29,289.36 82.73,290.33 83.18,290.27 83.63,289.02 84.08,290.14 84.52,288.68 84.97,288.97 85.42,289.76 85.87,289.64 86.31,289.56 86.76,289.62 87.21,289.17 87.66,289.59 88.11,287.65 88.55,289.07 89,289.52 89.45,289.26 89.9,288.77 90.34,289.2 90.79,287.12 91.24,289.25 91.69,289.18 92.14,288.73 92.58,288.38 93.03,287.8 93.48,287.04 93.93,288.43 94.37,287.51 94.82,288.82 95.27,288.65 95.72,287.99 96.16,287.96 96.61,288.55 97.06,288.48 97.51,288.48 97.95,287 98.4,287.07 98.85,287.83 99.3,288.09 99.74,286.03 100.19,286.38 100.64,287.41 101.08,287.38 101.53,285.8 101.98,286.95 102.42,284.99 102.87,286.14 103.32,287.17 103.76,287.17 104.21,285.65 104.66,286.06 105.1,287.01 105.55,285.16 106,286.84 106.44,286.75 106.89,286.54 107.34,286.43 107.78,284.14 108.23,286.55 108.67,285.34 109.12,284.45 109.57,283.65 110.01,284.02 110.46,286.1 110.9,283.85 111.35,284.29 111.8,284.66 112.24,285.56 112.69,285.23 113.13,283.35 113.58,285.6 114.02,285.54 114.47,285.4 114.91,284.86 115.36,285.39 115.8,284.78 116.25,283.67 116.71,284.93 117.16,283.16 117.62,285.04 118.07,285.02 118.53,284.11 118.98,284.53 119.44,284.75 119.9,284.45 120.35,283.4 120.81,284.63 121.26,283.18 121.73,283.19 122.19,284.33 122.66,282.19 123.13,281.77 123.59,283.77 124.06,282.06 124.52,284.17 124.99,283.13 125.46,282.85 125.92,284.03 126.39,283.65 126.86,281.43 127.34,282.36 127.82,281.95 128.29,282.92 128.77,282.44 129.24,283.8 129.72,281.94 130.2,283.23 130.67,283.47 131.15,283.21 131.62,283.27 132.11,282.05 132.6,282.67 133.08,283.17 133.57,281.24 134.06,283.02 134.54,283.45 135.03,281.86 135.52,282.51 136,282.05 136.49,283.32 136.98,283.08 137.44,281.9 137.9,281.48 138.37,282.73 138.83,282.67 139.3,280.56 139.76,283.22 140.23,283 140.69,283.11 141.16,280.55 141.62,282.79 142.09,282.23 142.55,282.57 143.03,283.1 143.52,282.68 144,281.8 144.48,282.9 144.97,282.66 145.45,280.31 145.93,280.98 146.42,282.24 146.9,280.53 147.38,280.64 147.87,281.97 148.35,281.86 148.81,282.74 149.28,281.07 149.74,280.75 150.2,283.02 150.67,281.14 151.13,282.85 151.59,280.79 152.06,281.09 152.52,282.99 152.98,282.74 153.45,281.87 153.91,282.78 154.38,283.02 154.86,279.6 155.34,281.03 155.82,281.17 156.3,282.44 156.78,281.88 157.26,283.02 157.74,282.77 158.22,282.08 158.7,280.46 159.18,281.66 159.66,282.64 160.14,281.7 160.62,280.94 161.09,282.97 161.56,281.63 162.03,282.2 162.5,280.73 162.97,282.44 163.44,281.93 163.91,280.82 164.38,281.56 164.85,283.1 165.32,281.46 165.79,282.96 166.26,282.98 166.73,281.31 167.2,283.19 167.67,280.64 168.14,282.76 168.61,282.93 169.08,282.06 169.54,281.39 170,282.98 170.46,282.42 170.93,282.74 171.39,282.32 171.85,281.65 172.32,282.48 172.78,283.2 173.24,282.53 173.71,282.92 174.17,281.82 174.63,281.73 175.1,280.83 175.56,283.24 176.02,281.6 176.49,280.91 176.95,282.52 177.41,281.76 177.87,282.17 178.34,282.91 178.8,282.13 179.25,280.67 179.71,283.17 180.17,281.96 180.63,280.71 181.09,280.56 181.55,282.64 182.01,283.31 182.46,283.12 182.92,281.24 183.38,282.93 183.84,281.19 184.3,283.17 184.76,282.5 185.21,282.3 185.67,283.23 186.13,282.76 186.59,282.95 187.05,283.26 187.51,281.22 187.97,281.12 188.42,281.97 188.88,283.32 189.34,281.1 189.8,282.85 190.26,283.35 190.71,283.17 191.17,281.24 191.62,283.11 192.08,283.15 192.53,283.02 192.99,282.43 193.44,283.36 193.9,282.54 194.35,282.34 194.81,280.97 195.26,282.85 195.72,281.62 196.17,282.99 196.63,280.17 197.08,283.28 197.54,282.63 197.99,283.37 198.45,282.38 198.9,282.58 199.36,281.23 199.81,283.16 200.27,283.29 200.72,283.35 201.18,282.2 201.63,281.3 202.09,281.47 202.54,281.12 203,281.95 203.45,281.14 203.9,283.28 204.35,281.07 204.8,283.2 205.25,281.62 205.7,283.37 206.15,283.19 206.6,281.12 207.05,283.38 207.5,282.51 207.95,281.82 208.4,282.28 208.85,282.36 209.3,280.8 209.75,283.05 210.2,283.35 210.65,278.89 211.1,281.3 211.55,281.48 212,280.81 212.45,281.96 212.9,282.01 213.37,282.59 213.84,283.06 214.31,282.61 214.79,282.69 215.26,283.32 215.73,282.97 216.2,282.88 216.67,282.17 217.14,281.91 217.61,280.76 218.09,283.45 218.56,281.76 219.03,283.33 219.5,281.24 219.97,282.51 220.44,283.33 220.91,281.61 221.39,282.44 221.86,283.15 222.33,282.7 222.8,282.8 222.8,293.75 222.33,293.48 221.86,293.61 221.39,294.02 220.91,292.52 220.44,293.57 219.97,292.96 219.5,292.54 219.03,292.51 218.56,295.14 218.09,292.98 217.61,292.55 217.14,294.11 216.67,292.54 216.2,293.58 215.73,293.41 215.26,292.52 214.79,293.22 214.31,292.94 213.84,292.97 213.37,292.57 212.9,292.83 212.45,293.77 212,293.37 211.55,292.78 211.1,292.51 210.65,292.79 210.2,292.62 209.75,293.3 209.3,294.31 208.85,293.28 208.4,293.33 207.95,292.47 207.5,292.74 207.05,292.56 206.6,294.33 206.15,294.9 205.7,294.36 205.25,294.72 204.8,294.58 204.35,292.98 203.9,292.88 203.45,292.66 203,294.77 202.54,292.46 202.09,292.71 201.63,292.47 201.18,292.44 200.72,293.43 200.27,293.8 199.81,294.75 199.36,292.66 198.9,292.78 198.45,294.8 197.99,292.49 197.54,294.08 197.08,294.44 196.63,292.58 196.17,292.43 195.72,294.64 195.26,292.49 194.81,293.39 194.35,294.07 193.9,293.39 193.44,292.45 192.99,292.67 192.53,293.36 192.08,292.58 191.62,292.44 191.17,292.9 190.71,293.52 190.26,293.19 189.8,294.33 189.34,294.33 188.88,292.59 188.42,294.31 187.97,294.07 187.51,292.45 187.05,294 186.59,293.26 186.13,292.5 185.67,294.15 185.21,292.86 184.76,292.75 184.3,292.38 183.84,294.25 183.38,293.18 182.92,292.74 182.46,294.29 182.01,293.4 181.55,292.41 181.09,292.68 180.63,294.65 180.17,293.95 179.71,293.83 179.25,293.18 178.8,292.5 178.34,293.3 177.87,292.79 177.41,292.42 176.95,292.49 176.49,293.99 176.02,292.5 175.56,293.2 175.1,295.02 174.63,292.99 174.17,295.03 173.71,292.83 173.24,294.89 172.78,293.72 172.32,292.93 171.85,292.58 171.39,293.63 170.93,294.2 170.46,293.44 170,292.83 169.54,292.76 169.08,292.3 168.61,292.36 168.14,292.27 167.67,294.96 167.2,292.79 166.73,294.7 166.26,292.7 165.79,294.14 165.32,292.4 164.85,292.9 164.38,294.45 163.91,292.61 163.44,293.32 162.97,292.44 162.5,294.05 162.03,292.21 161.56,293.49 161.09,292.72 160.62,292.23 160.14,292.23 159.66,294.65 159.18,292.55 158.7,293.7 158.22,292.9 157.74,292.13 157.26,292.83 156.78,292.11 156.3,292.2 155.82,292.89 155.34,293.2 154.86,293.84 154.38,293.88 153.91,292.11 153.45,293.21 152.98,292.7 152.52,292.08 152.06,293.97 151.59,293.79 151.13,293.1 150.67,293.87 150.2,294.27 149.74,293.33 149.28,293.42 148.81,294.8 148.35,292.33 147.87,292.14 147.38,293.43 146.9,292.99 146.42,292.31 145.93,292.49 145.45,292.44 144.97,292.46 144.48,292.92 144,292.19 143.52,293.29 143.03,292.52 142.55,294.36 142.09,293.27 141.62,292.88 141.16,292.26 140.69,293.48 140.23,292.66 139.76,294.38 139.3,292.29 138.83,294.47 138.37,292.33 137.9,292.53 137.44,294.67 136.98,292.47 136.49,293.54 136,294.71 135.52,294.77 135.03,292.91 134.54,292.62 134.06,293.63 133.57,292.59 133.08,292.69 132.6,292.77 132.11,293.36 131.62,293.38 131.15,293.2 130.67,294.91 130.2,295.17 129.72,294.53 129.24,292.87 128.77,293.45 128.29,293.41 127.82,293.01 127.34,293.24 126.86,295.65 126.39,294.36 125.92,295.15 125.46,294.36 124.99,293.69 124.52,293.54 124.06,293.48 123.59,294.36 123.13,295.62 122.66,293.77 122.19,294.87 121.73,294.48 121.26,294.13 120.81,294.71 120.35,294.36 119.9,296.28 119.44,294.49 118.98,295.47 118.53,295.01 118.07,294.09 117.62,295.4 117.16,296.97 116.71,295.02 116.25,294.43 115.8,294.41 115.36,296.44 114.91,296.59 114.47,294.93 114.02,295.32 113.58,295.85 113.13,294.87 112.69,294.94 112.24,295.06 111.8,295.07 111.35,295.75 110.9,297.96 110.46,296.84 110.01,295.34 109.57,297.78 109.12,297.02 108.67,295.87 108.23,295.74 107.78,297.84 107.34,297.95 106.89,296.46 106.44,297.02 106,298.42 105.55,297.83 105.1,297.29 104.66,298.19 104.21,296.7 103.76,298.25 103.32,296.35 102.87,296.39 102.42,296.84 101.98,299.2 101.53,297.56 101.08,296.64 100.64,299.19 100.19,297.28 99.74,296.62 99.3,296.44 98.85,297.15 98.4,298.62 97.95,297.2 97.51,299.01 97.06,298.09 96.61,297.19 96.16,297.01 95.72,298.57 95.27,296.96 94.82,297.29 94.37,298.44 93.93,297.18 93.48,298.03 93.03,298.91 92.58,298.15 92.14,299.76 91.69,298.57 91.24,298.22 90.79,298.81 90.34,297.72 89.9,299.22 89.45,298.27 89,298.12 88.55,297.88 88.11,299.75 87.66,298.03 87.21,298.04 86.76,298.84 86.31,299.62 85.87,298.59 85.42,298.59 84.97,298.85 84.52,299.31 84.08,298.66 83.63,298.47 83.18,299.58 82.73,299.36 82.29,298.89 81.84,298.7 81.39,298.72 80.94,300.53 80.49,299.23 80.05,302.4 79.6,300.49 79.15,299.52 78.7,298.54 78.26,298.88 77.81,299.3 77.36,298.71 76.91,299.68 76.46,299.38 76.02,299.09 75.57,301.11 75.12,299.27 74.67,300.59 74.23,299.45 73.78,299.79 73.33,302.88 72.88,299.6 72.44,300.06 71.99,299.49 71.52,301.61 71.06,300.14 70.59,301.32 70.13,300.94 69.66,300.48 69.2,300.48 68.74,300.17 68.27,301.75 67.81,301.36 67.32,300.63 66.82,300.89 66.33,300.3 65.84,301.72 65.35,301.6 64.86,302.19 64.37,302.61 63.92,301.95 63.47,301.14 63.02,302.04 62.57,303.16 62.12,302.51 61.67,303.34 61.19,303.91 60.7,302.31 60.21,301.58 59.72,302.47 59.16,303.91 58.59,302.38 58.02,302.13 57.54,302.46 57.06,302.47 56.57,303.33 55.97,302.97 55.38,303.15 54.9,303.68 54.43,304.5 54,304.97 53.58,304.79 53.2,304.9 52.83,305.39 52.18,305.5 51.62,306.38 51.21,308.5 50.94,307.38 50.8,308.15" fill="#e800e8" stroke="#e800e8" stroke-width="0.5" stroke-linejoin="round"/>
<polygon points="49.8,284.23 49.91,283.11 50.12,282.72 50.28,281.62 50.44,280.58 50.58,280.04 50.72,281.02 50.86,278.81 51.04,278.52 51.22,279.1 51.4,274.14 51.56,275.71 51.73,275.9 51.89,274.94 52.05,274.13 52.24,275.11 52.43,275.56 52.62,274.2 52.81,275.16 53.03,272.62 53.25,273.95 53.47,270.52 53.69,270.6 53.93,272.66 54.17,272.28 54.41,268.75 54.66,270.07 54.92,271.07 55.19,270.69 55.45,267.59 55.72,267.79 56.1,269.17 56.49,268.42 56.88,268.94 57.29,268.33 57.71,264.83 58.12,267.49 58.53,266.72 58.94,266.97 59.35,266.77 59.75,265.63 60.15,264.97 60.55,265.87 60.94,263.06 61.33,264.1 61.72,264.88 62.3,264.45 62.88,262.25 63.36,263.16 63.84,263.24 64.32,261.6 64.76,263.85 65.2,261.85 65.64,261.7 66.07,263.36 66.59,263.32 67.1,262.77 67.61,262.45 68.12,262.28 68.59,262.76 69.06,260.91 69.53,262.52 70,259.69 70.47,261.09 70.96,261.66 71.44,261.61 71.92,260.71 72.4,261.57 72.88,261.04 73.37,261.59 73.87,261.63 74.36,260.17 74.85,259.26 75.34,261.6 75.85,261.57 76.35,260.91 76.86,259.96 77.36,261.23 77.86,259.03 78.38,259.9 78.89,259.11 79.41,261.17 79.92,258.43 80.44,259.41 80.89,261.03 81.34,259.82 81.79,257.56 82.24,258.32 82.7,258.61 83.15,260.95 83.6,260.87 84.07,260.91 84.54,259.91 85.01,260.58 85.47,260.9 85.94,260.79 86.41,259.07 86.88,259.98 87.35,258.03 87.83,259.81 88.31,259.3 88.8,258.42 89.28,260.9 89.76,260.34 90.24,259.57 90.72,258.89 91.21,260.42 91.69,260.2 92.18,258.67 92.67,260.45 93.16,259.96 93.66,257.71 94.15,258.72 94.64,258.37 95.14,260.53 95.63,260.27 96.12,259 96.61,258.88 97.1,260.15 97.6,260.61 98.09,257.41 98.58,260.55 99.07,257.63 99.56,260.73 100.06,260.72 100.55,260.69 101.04,257.65 101.53,259.06 102.02,260.19 102.51,258.57 103,259.05 103.5,260.95 103.99,259.55 104.48,261.1 104.97,260.89 105.46,260.56 105.95,260.81 106.44,260.41 106.93,260.16 107.43,261.29 107.92,261.16 108.41,259.96 108.9,261.15 109.39,259.93 109.88,260.85 110.37,261.67 110.86,260.46 111.35,258.77 111.84,261.61 112.33,259.93 112.82,261.94 113.31,260.63 113.8,259.46 114.29,260.79 114.78,262.23 115.27,261.81 115.76,260.48 116.25,260.59 116.71,262.36 117.17,262.53 117.63,262.41 118.09,260.11 118.55,261.61 119.01,259.59 119.48,262.13 119.94,261.72 120.4,261.44 120.86,260.31 121.32,261.64 121.79,259.85 122.27,262.86 122.75,262.96 123.22,262 123.7,261.65 124.18,261.72 124.65,260.48 125.13,262.8 125.6,262.91 126.08,263.17 126.56,263.16 127.01,261.63 127.46,261.18 127.91,263.45 128.36,261.82 128.81,259.66 129.26,261.38 129.71,262.22 130.16,263.49 130.61,263.63 131.06,263.53 131.51,261.65 131.96,260.58 132.43,263.36 132.89,263.52 133.36,262.03 133.82,263.62 134.29,261.63 134.75,263.4 135.21,263.67 135.68,262.38 136.14,262.45 136.61,262.41 137.07,262.96 137.54,263.87 138,261.65 138.47,263.82 138.93,262.41 139.4,261.82 139.86,263.99 140.32,262.38 140.79,263.98 141.25,263.87 141.72,263.22 142.18,261.9 142.65,263.01 143.11,260.82 143.58,261.79 144.04,261.52 144.51,263.96 144.97,262.07 145.44,261.57 145.9,261.71 145.9,278.28 145.44,275.56 144.97,275.64 144.51,274.97 144.04,275.34 143.58,276.18 143.11,275.19 142.65,275.28 142.18,274.92 141.72,275.07 141.25,275.74 140.79,278.25 140.32,275.73 139.86,277.21 139.4,277.24 138.93,276.26 138.47,275.88 138,274.95 137.54,275.2 137.07,274.76 136.61,276.66 136.14,276.88 135.68,275.16 135.21,275.26 134.75,275.79 134.29,276.15 133.82,276.51 133.36,276.81 132.89,276.26 132.43,277.42 131.96,274.62 131.51,275.14 131.06,274.46 130.61,275.95 130.16,277.01 129.71,274.37 129.26,276.27 128.81,274.62 128.36,275.2 127.91,274.48 127.46,277.05 127.01,275.58 126.56,277.4 126.08,274.15 125.6,274.12 125.13,274.2 124.65,275.86 124.18,273.99 123.7,274.17 123.22,274.16 122.75,274.25 122.27,276.18 121.79,276.75 121.32,274.77 120.86,276.29 120.4,276.46 119.94,276.72 119.48,275.94 119.01,273.62 118.55,274.33 118.09,276.14 117.63,276.6 117.17,275.38 116.71,273.84 116.25,273.43 115.76,273.21 115.27,273.24 114.78,273.03 114.29,275.57 113.8,274.54 113.31,274.16 112.82,273.57 112.33,273.06 111.84,274.3 111.35,274.37 110.86,274.45 110.37,273.13 109.88,273.83 109.39,272.42 108.9,274.52 108.41,274.4 107.92,272.25 107.43,272.15 106.93,272.15 106.44,272.07 105.95,272.83 105.46,272.06 104.97,273.19 104.48,272.27 103.99,271.93 103.5,274.14 103,272.33 102.51,274.81 102.02,273.87 101.53,272.83 101.04,272.56 100.55,272.38 100.06,274.24 99.56,274.22 99.07,271.95 98.58,271.54 98.09,271.45 97.6,271.63 97.1,271.62 96.61,271.57 96.12,271.92 95.63,273.46 95.14,271.41 94.64,271.33 94.15,271.37 93.66,273 93.16,274.07 92.67,271.72 92.18,272.45 91.69,271.31 91.21,273.15 90.72,271.26 90.24,273.06 89.76,271.73 89.28,273.3 88.8,270.71 88.31,271.29 87.83,270.89 87.35,270.68 86.88,271.05 86.41,272.83 85.94,271.28 85.47,273.25 85.01,271.71 84.54,272 84.07,270.74 83.6,270.73 83.15,270.76 82.7,272.73 82.24,271.02 81.79,271.65 81.34,272.69 80.89,271.6 80.44,273.35 79.92,272.8 79.41,271.4 78.89,271.35 78.38,271.15 77.86,271.55 77.36,271.46 76.86,271.69 76.35,274.15 75.85,271.4 75.34,272.85 74.85,271.72 74.36,272.43 73.87,272.62 73.37,271.91 72.88,273.26 72.4,276.74 71.92,272.82 71.44,272.33 70.96,272.73 70.47,272.57 70,274.86 69.53,273.61 69.06,273.04 68.59,273.74 68.12,273.98 67.61,273.36 67.1,273.5 66.59,273.6 66.07,273.42 65.64,274.5 65.2,273.71 64.76,273.82 64.32,275.03 63.84,276.87 63.36,275.34 62.88,274.7 62.3,275.26 61.72,275.36 61.33,276.65 60.94,277.06 60.55,276.19 60.15,276.86 59.75,278.29 59.35,278.48 58.94,277.41 58.53,277.57 58.12,279.71 57.71,281.1 57.29,280.48 56.88,279.12 56.49,280.15 56.1,280.01 55.72,283.2 55.45,283.44 55.19,281.98 54.92,282.57 54.66,283.21 54.41,285.24 54.17,283.54 53.93,284.27 53.69,284.89 53.47,287.5 53.25,285.62 53.03,288.68 52.81,287.47 52.62,286.9 52.43,287.21 52.24,287.51 52.05,289.68 51.89,288.63 51.73,289.61 51.56,290.93 51.4,290.21 51.22,291.94 51.04,292.79 50.86,292.06 50.72,291.94 50.58,293.04 50.44,293.23 50.28,293.66 50.12,294.86 49.91,295.36 49.8,296.27" fill="#18e8e8" stroke="#18e8e8" stroke-width="0.5" stroke-linejoin="round"/>
<path d="M86.74 356.7V352.2M86.74 216.6V221.1M125.88 356.7V352.2M125.88 216.6V221.1M165.02 356.7V352.2M165.02 216.6V221.1M204.16 356.7V352.2M204.16 216.6V221.1M47.6 333.35H52.1M243.3 333.35H238.8M47.6 310H52.1M243.3 310H238.8M47.6 286.65H52.1M243.3 286.65H238.8M47.6 263.3H52.1M243.3 263.3H238.8M47.6 239.95H52.1M243.3 239.95H238.8" stroke="#484848" stroke-width="1.1" fill="none"/>
<rect x="47.6" y="216.6" width="195.7" height="140.1" fill="none" stroke="#484848" stroke-width="1.6"/>
<text x="41" y="360.6" font-size="10.2" text-anchor="end" font-family="'Liberation Sans', Arial, sans-serif">0</text>
<text x="41" y="337.25" font-size="10.2" text-anchor="end" font-family="'Liberation Sans', Arial, sans-serif">20</text>
<text x="41" y="313.9" font-size="10.2" text-anchor="end" font-family="'Liberation Sans', Arial, sans-serif">40</text>
<text x="41" y="290.55" font-size="10.2" text-anchor="end" font-family="'Liberation Sans', Arial, sans-serif">60</text>
<text x="41" y="267.2" font-size="10.2" text-anchor="end" font-family="'Liberation Sans', Arial, sans-serif">80</text>
<text x="41" y="243.85" font-size="10.2" text-anchor="end" font-family="'Liberation Sans', Arial, sans-serif">100</text>
<text x="41" y="220.5" font-size="10.2" text-anchor="end" font-family="'Liberation Sans', Arial, sans-serif">120</text>
<text x="49" y="370.8" font-size="10.2" text-anchor="middle" font-family="'Liberation Sans', Arial, sans-serif">0</text>
<text x="88.14" y="370.8" font-size="10.2" text-anchor="middle" font-family="'Liberation Sans', Arial, sans-serif">10</text>
<text x="127.28" y="370.8" font-size="10.2" text-anchor="middle" font-family="'Liberation Sans', Arial, sans-serif">20</text>
<text x="166.42" y="370.8" font-size="10.2" text-anchor="middle" font-family="'Liberation Sans', Arial, sans-serif">30</text>
<text x="205.56" y="370.8" font-size="10.2" text-anchor="middle" font-family="'Liberation Sans', Arial, sans-serif">40</text>
<text x="244.7" y="370.8" font-size="10.2" text-anchor="middle" font-family="'Liberation Sans', Arial, sans-serif">50</text>
<text x="146.05" y="385.9" font-size="10.3" text-anchor="middle" font-family="'Liberation Sans', Arial, sans-serif">Time (ps)</text>
<text x="125.75" y="403.8" font-size="14" text-anchor="middle" font-family="'Liberation Serif', 'Times New Roman', serif">(c)</text>
<text transform="translate(10.4,287.2) rotate(-90)" font-size="10.3" text-anchor="middle" font-family="'Liberation Sans', Arial, sans-serif">Pressure (GPa)</text>
<text x="88.2" y="231.2" font-size="10" text-anchor="end" font-family="'Liberation Sans', Arial, sans-serif">6km·s<tspan font-size="6.5" dy="-5.5">-1</tspan></text>
<line x1="95.6" y1="226.5" x2="106" y2="226.5" stroke="#e40000" stroke-width="1.6"/>
<text x="88.2" y="241.2" font-size="10" text-anchor="end" font-family="'Liberation Sans', Arial, sans-serif">7km·s<tspan font-size="6.5" dy="-5.5">-1</tspan></text>
<line x1="95.6" y1="236.8" x2="106" y2="236.8" stroke="#10d010" stroke-width="1.6"/>
<text x="154.9" y="231.2" font-size="10" text-anchor="end" font-family="'Liberation Sans', Arial, sans-serif">8km·s<tspan font-size="6.5" dy="-5.5">-1</tspan></text>
<line x1="162" y1="226.5" x2="173" y2="226.5" stroke="#0000c8" stroke-width="1.6"/>
<text x="154.9" y="241.2" font-size="10" text-anchor="end" font-family="'Liberation Sans', Arial, sans-serif">9km·s<tspan font-size="6.5" dy="-5.5">-1</tspan></text>
<line x1="162" y1="236.8" x2="173" y2="236.8" stroke="#e800e8" stroke-width="1.6"/>
<text x="221.5" y="231.2" font-size="10" text-anchor="end" font-family="'Liberation Sans', Arial, sans-serif">10km·s<tspan font-size="6.5" dy="-5.5">-1</tspan></text>
<line x1="228.8" y1="226.5" x2="239.3" y2="226.5" stroke="#18e8e8" stroke-width="1.6"/>
<polyline points="305.6,354.83 305.98,354.55 306.74,354.39 307.89,354.58 308.65,354.46 309.41,354.43 310,354.65 310.59,354.21 311.43,353.83 311.93,352.74 312.07,351.45 312.15,351.21 312.23,350.49 312.31,349.59 312.39,348.68 312.45,347.71 312.51,347.28 312.56,346.86 312.62,346.07 312.68,345.19 312.74,344.47 312.8,343.42 312.87,342.61 312.93,342.43 313,341.14 313.07,340.6 313.14,339.99 313.22,339.52 313.3,338.83 313.38,338.26 313.46,337.63 313.54,336.51 313.62,335.82 313.76,334.87 313.89,334.16 314.04,333.27 314.18,333.15 314.33,332.29 314.49,331.64 314.81,330.44 315.16,330.23 315.54,329.05 315.94,328.8 316.36,327.88 316.79,327.46 317.23,326.95 317.67,326.87 318.12,326.4 318.85,326.26 319.85,325.99 320.49,325.44 321.12,325.17 321.9,325.21 322.67,324.9 323.45,324.73 324.23,324.47 325.01,324.14 325.79,323.92 326.58,324.18 327.36,323.94 328.15,323.83 328.94,323.65 329.62,323.46 330.3,323.13 330.98,323.53 331.6,323.19 332.23,323.06 332.85,322.84 333.48,322.85 334.22,323.19 334.96,322.71 335.7,322.9 336.44,322.35 337.12,322.62 337.81,322.32 338.49,322.23 339.18,322.22 339.86,322.21 340.56,322.32 341.26,322.1 341.97,322.35 342.67,321.79 343.37,322.22 343.97,321.87 344.56,322.07 345.16,321.74 345.76,321.59 346.36,321.98 346.96,321.75 347.57,321.76 348.18,321.57 348.79,321.65 349.4,321.77 350.01,321.57 350.62,321.68 351.25,321.19 351.88,321.11 352.5,321.47 353.12,321.38 353.75,321.37 354.38,321 355.03,320.95 355.69,321.29 356.34,320.74 357,320.68 357.66,320.65 358.31,320.7 358.97,320.75 359.62,320.69 360.28,320.71 360.94,320.37 361.56,320.56 362.19,320.65 362.81,320.31 363.44,320.58 364.06,320.85 364.69,320.65 365.31,320.83 365.94,320.74 366.56,320.46 367.19,320.1 367.81,320.1 368.44,320.43 369.06,320.59 369.69,320.21 370.31,320.04 370.92,320.46 371.53,320.28 372.14,320.21 372.75,319.95 373.36,320.23 373.97,320.22 374.58,320.29 375.19,320.4 375.8,319.8 376.41,320.31 377.02,319.93 377.62,319.97 378.23,319.9 378.84,320.2 379.45,319.92 380.06,319.64 380.67,319.9 381.28,319.65 381.89,319.53 382.5,319.54 383.1,319.75 383.7,319.78 384.3,319.44 384.9,319.52 385.5,320.03 386.1,319.76 386.7,320.05 387.3,319.72 387.9,319.99 388.5,319.78 389.1,319.55 389.7,319.3 390.3,319.34 390.9,319.77 391.5,319.66 392.1,319.39 392.7,319.27 393.3,319.59 393.9,319.77 394.5,319.27 395.1,319.78 395.7,319.43 396.3,319.19 396.9,319.15 397.5,319.5 398.12,319.63 398.75,319.1 399.38,319.11 400,319.02 400.62,319.05 401.25,319.04 401.88,319.16 402.5,319.01 403.12,319.29 403.75,318.98 404.38,318.98 405,319.06 405.62,318.87 406.25,318.77 406.88,318.78 407.5,318.7 408.12,319.15 408.75,318.69 409.38,318.97 410,319.24 410.62,319.03 411.25,318.8 411.88,318.84 412.5,318.84 413.12,318.75 413.75,318.55 414.38,318.6 415,318.58 415.62,318.61 416.25,318.67 416.88,318.5 417.5,318.84 418.12,318.53 418.75,318.73 419.38,318.84 420,318.69 420.62,318.84 421.25,318.85 421.88,318.6 422.5,318.42 423.12,318.29 423.75,318.72 424.38,318.48 425,318.41 425.62,318.25 426.25,318.3 426.88,318.78 427.5,318.47 428.12,318.72 428.75,318.7 429.38,318.27 430,318.24 430.62,318.69 431.25,318.22 431.88,318.46 432.5,318.68 433.12,318.33 433.75,318.29 434.38,318.65 435,318.57 435.62,318.6 436.25,318.43 436.88,318.08 437.5,317.94 438.12,317.9 438.75,318.52 439.38,318.24 440,318.47 440.62,318.51 441.25,317.99 441.88,318.49 442.5,317.99 443.12,317.91 443.75,317.97 444.38,318.46 445,318.41 445.62,317.98 446.25,318.06 446.88,318.29 447.5,318.26 448.12,318.32 448.75,317.93 449.38,317.83 450,318.01 450.62,318.29 451.25,318.05 451.85,318.22 452.46,317.74 453.06,317.94 453.66,318.22 454.27,317.97 454.87,318.11 455.47,318.11 456.07,317.84 456.68,318 457.28,317.99 457.88,317.8 458.49,317.85 459.09,318.04 459.69,318.08 460.3,318.14 460.9,317.69 461.5,317.9 462.11,317.8 462.71,318 463.31,317.56 463.92,317.7 464.54,317.54 465.15,317.91 465.76,317.84 466.37,317.33 466.98,317.39 467.6,317.4 468.21,317.71 468.82,317.82 469.43,317.51 470.04,317.31 470.65,317.66 471.27,317.66 471.88,317.52 472.49,317.4 473.1,317.44 473.71,317.35 474.33,317.74 474.94,317.43 475.56,317.65 476.18,317.52 476.8,317.29 477.42,317.31 478.05,317.57 478.67,317.7 479.29,317.72 479.91,317.18 480.53,317.24 481.15,317.11 481.77,317.17 482.4,317.29 483.02,317.51 483.64,317.64 484.26,317.4 484.88,317.08 485.5,317.23 486.12,317.05 486.76,317.13 487.39,317.33 488.02,317.27 488.65,317.02 489.29,317.08 489.92,317.51 490.55,317.31 491.18,317.28 491.82,317.07 492.45,317.04 493.08,317.35 493.71,316.82 494.35,317.25 494.98,317.45 495.61,317.22 496.24,316.8 496.88,316.77 497.5,317.29 498.12,316.86 498.74,317.01 499.36,317.16 499.98,317.16 500.6,316.88 501.22,317.15 501.84,317.3 502.46,316.97 503.08,316.91 503.7,317.1 504.32,317.22 504.94,317.08 505.61,317.24 506.28,317.12 506.95,317.23 507.62,316.73 508.3,317.01 508.97,316.67 509.64,316.59 510.31,316.74 510.98,317.15 511.66,316.68 512.33,316.68 513,317.1" fill="none" stroke="#e40000" stroke-width="2.0" stroke-linejoin="round" stroke-linecap="butt"/>
<polyline points="310.3,354.94 310.3,354.01 310.31,352.96 310.31,352.67 310.31,351.53 310.31,350.87 310.32,350.3 310.32,349.87 310.32,349.15 310.32,348.92 310.33,347.97 310.33,347.6 310.33,346.68 310.33,345.94 310.34,345.26 310.34,344.44 310.34,344.11 310.35,343.85 310.35,343.25 310.35,342.6 310.35,341.4 310.36,341.03 310.36,340.69 310.36,339.6 310.36,338.92 310.37,338.37 310.37,337.63 310.38,337.44 310.38,336.77 310.39,336.31 310.39,335 310.4,334.81 310.4,334.22 310.41,333.14 310.41,332.45 310.42,332.46 310.43,331.71 310.43,330.58 310.44,330.05 310.45,329.76 310.45,328.8 310.46,328.36 310.47,327.54 310.48,326.84 310.49,326.45 310.5,325.83 310.51,325.39 310.52,324.14 310.53,323.72 310.54,322.86 310.55,322.54 310.56,321.64 310.58,321.13 310.59,320.95 310.6,320.1 310.61,319.49 310.62,318.82 310.64,317.92 310.65,317.63 310.67,317.17 310.69,315.89 310.71,315.75 310.73,314.74 310.75,313.97 310.78,313.63 310.81,313.02 310.85,311.8 310.89,311.08 310.93,310.56 310.98,309.7 311.04,309.27 311.1,308.96 311.3,307.36 311.51,306.84 311.74,306 311.98,305.43 312.23,305.3 312.54,305.14 312.91,304.42 313.35,304.12 313.85,303.86 314.62,303.59 315.66,303.24 316.31,302.56 316.96,302.22 317.75,302.49 318.54,302.02 319.16,302.1 319.78,301.46 320.4,301.79 321.02,301.2 321.7,301.12 322.38,301.02 323.06,301.09 323.75,301.04 324.43,301.12 325.04,301.25 325.66,300.83 326.27,300.87 326.89,300.69 327.51,300.61 328.12,300.46 328.74,300.22 329.39,300.34 330.04,300.61 330.7,300.61 331.35,300.48 332,300.26 332.66,300.18 333.31,299.97 333.96,299.96 334.59,300.43 335.23,300.1 335.86,299.92 336.49,299.96 337.12,299.87 337.75,299.68 338.39,299.72 339.02,299.68 339.63,299.95 340.24,299.9 340.85,299.43 341.46,299.49 342.07,299.28 342.68,299.74 343.3,299.12 343.91,299.31 344.58,298.93 345.25,299.19 345.93,299.13 346.6,298.76 347.28,298.8 347.95,298.99 348.63,298.92 349.28,298.75 349.93,298.52 350.57,298.65 351.23,298.62 351.88,298.39 352.52,298.69 353.17,298.37 353.83,298.55 354.48,298.64 355.13,298.12 355.78,298.43 356.43,298.49 357.08,298.64 357.73,298.46 358.38,298.53 359.04,298.37 359.69,298.03 360.34,298.41 360.95,298.35 361.56,298.14 362.17,298.42 362.78,297.79 363.39,298.37 364,297.96 364.61,298.06 365.23,298.22 365.84,297.76 366.45,297.96 367.06,297.61 367.67,297.6 368.28,298.22 368.89,297.68 369.5,297.8 370.11,297.57 370.73,298.12 371.35,297.8 371.97,298.03 372.59,297.6 373.21,297.72 373.83,297.55 374.45,297.77 375.07,297.83 375.69,297.72 376.31,297.71 376.93,297.5 377.55,297.93 378.16,297.26 378.78,297.35 379.4,297.68 380.02,297.88 380.64,297.77 381.26,297.33 381.88,297.8 382.5,297.44 383.1,297.51 383.7,297.55 384.3,297.52 384.9,297.68 385.5,297.68 386.1,297.26 386.7,297.65 387.3,297.23 387.9,297.48 388.5,297.1 389.1,297.42 389.7,297.17 390.3,297.64 390.9,297.39 391.5,297.19 392.1,297.57 392.7,296.97 393.3,297.4 393.9,297.31 394.5,296.86 395.1,297.15 395.7,296.9 396.3,297.5 396.9,296.86 397.5,297.22 398.11,297.14 398.72,296.84 399.33,297.39 399.94,297.13 400.55,297.15 401.16,296.89 401.77,296.8 402.38,296.91 402.98,296.69 403.59,296.8 404.2,296.99 404.81,296.9 405.42,297.15 406.03,296.71 406.64,296.74 407.25,296.95 407.86,297.05 408.47,296.78 409.08,296.69 409.69,296.62 410.3,296.78 410.91,296.78 411.52,297.06 412.12,296.65 412.73,296.71 413.34,296.98 413.95,296.59 414.56,296.46 415.18,297.11 415.8,297.06 416.41,296.63 417.03,296.59 417.65,296.71 418.26,296.52 418.88,296.91 419.5,296.97 420.11,296.84 420.73,296.61 421.35,296.91 421.97,296.97 422.58,296.43 423.2,296.76 423.82,296.4 424.43,296.96 425.05,296.82 425.67,296.54 426.28,296.76 426.9,296.43 427.52,296.26 428.14,296.57 428.75,296.25 429.37,296.51 429.99,296.77 430.6,296.57 431.22,296.34 431.84,296.29 432.45,296.52 433.07,296.48 433.69,296.75 434.29,296.22 434.9,296.42 435.5,296.4 436.11,296.34 436.71,296.2 437.32,296.33 437.93,296.43 438.53,296.18 439.14,296.26 439.74,296.39 440.35,296.67 440.95,296.34 441.56,296.24 442.16,296.01 442.77,296.34 443.37,296.21 443.98,296.04 444.58,296.28 445.19,296.37 445.79,296.18 446.4,296.44 447.01,296.36 447.61,295.95 448.22,295.93 448.82,296.26 449.43,296.3 450.03,296.26 450.64,296.02 451.24,296.09 451.85,296.35 452.45,296.11 453.06,296.2 453.66,295.98 454.27,296.25 454.88,296.14 455.49,295.79 456.1,296.31 456.71,296.34 457.32,296.46 457.93,296.42 458.55,296.24 459.16,296.07 459.77,295.92 460.38,296.22 460.99,296.01 461.61,295.94 462.22,295.79 462.83,296.12 463.44,296.19 464.05,296.22 464.66,295.78 465.28,295.81 465.89,296.1 466.5,295.74 467.11,296.26 467.72,296.28 468.34,296.07 468.95,295.8 469.56,296 470.17,296.14 470.78,295.84 471.39,296.04 472.01,296 472.62,296.21 473.23,296.11 473.84,296.02 474.45,295.93 475.07,296.16 475.68,295.95 476.29,296.01 476.9,295.73 477.51,295.58 478.12,295.89 478.73,295.65 479.33,296.16 479.93,295.63 480.53,296.1 481.13,295.69 481.73,295.59 482.33,295.85 482.94,295.66 483.54,296.13 484.14,295.85 484.74,295.49 485.34,295.62 485.94,295.48 486.54,295.74 487.14,295.75 487.75,295.6 488.35,295.84 488.95,295.67 489.55,295.93 490.15,295.82 490.75,295.52 491.35,295.91 491.95,295.34 492.56,295.48 493.16,295.33 493.76,295.96 494.36,295.67 494.96,295.87 495.56,295.97 496.17,295.33 496.79,295.89 497.4,295.27 498.01,295.73 498.62,295.79 499.23,295.5 499.85,295.84 500.46,295.75 501.07,295.55 501.68,295.39 502.29,295.3 502.9,295.23 503.52,295.55 504.13,295.53 504.74,295.29 505.35,295.52 505.96,295.2 506.58,295.34 507.19,295.59 507.83,295.22 508.48,295.47 509.12,295.19 509.77,295.71 510.42,295.23 511.06,295.73 511.71,295.71 512.35,295.73 513,295.25" fill="none" stroke="#10d010" stroke-width="2.0" stroke-linejoin="round" stroke-linecap="butt"/>
<polyline points="309.9,354.73 309.9,353.58 309.91,353.49 309.91,352.57 309.92,351.5 309.92,350.95 309.92,350.31 309.93,349.86 309.93,349.65 309.93,348.93 309.94,347.99 309.94,347.68 309.94,346.47 309.95,346.2 309.95,345.44 309.96,344.57 309.96,344.51 309.96,343.68 309.97,343.27 309.97,342.37 309.97,341.71 309.98,340.75 309.98,340.37 309.99,340.05 309.99,339.19 309.99,338.63 310,337.89 310,337.2 310,336.34 310.01,335.87 310.01,335.23 310.01,334.54 310.02,333.9 310.02,333.77 310.03,333.32 310.03,332.49 310.04,331.97 310.04,330.91 310.05,330.74 310.05,329.8 310.06,329.51 310.06,328.46 310.07,327.88 310.07,327.42 310.08,326.59 310.08,325.99 310.09,325.7 310.09,325.13 310.1,324.64 310.11,323.79 310.12,322.96 310.12,322.42 310.13,321.88 310.14,321.26 310.14,320.87 310.15,320.01 310.16,319.66 310.17,318.7 310.17,318.06 310.18,317.15 310.19,316.73 310.2,316.22 310.21,315.26 310.22,314.94 310.23,314.09 310.24,313.58 310.25,313.38 310.26,312.78 310.27,311.6 310.28,311.31 310.29,310.62 310.3,309.69 310.31,309.23 310.33,308.77 310.34,308.07 310.35,307.55 310.36,306.57 310.38,306.33 310.39,305.7 310.4,304.78 310.41,304.42 310.43,304.05 310.45,303.38 310.47,302.56 310.49,301.86 310.51,301.39 310.52,300.55 310.54,300.09 310.56,299.22 310.59,298.71 310.62,298.18 310.65,297.43 310.68,296.8 310.71,296 310.74,295.33 310.79,294.87 310.84,294.06 310.89,293.38 310.94,292.67 311.05,291.85 311.16,291.34 311.29,290.85 311.42,289.7 311.57,289.43 311.73,288.76 312.06,287.82 312.44,286.99 312.89,286.06 313.41,285.15 314.01,284.87 314.69,284.55 315.69,284.18 316.35,284.16 317.01,283.74 317.84,283.5 318.66,283.05 319.32,283.19 319.98,282.56 320.64,282.92 321.25,282.53 321.87,282.4 322.48,282.45 323.1,282.24 323.84,282.46 324.58,281.75 325.31,281.61 326.05,281.89 326.74,281.56 327.43,281.5 328.11,281.97 328.8,281.57 329.49,281.34 330.14,281.35 330.8,281.2 331.45,281.18 332.1,281.05 332.76,281.59 333.41,281.38 334.11,281.07 334.8,280.84 335.5,281.4 336.19,281.29 336.89,280.69 337.58,281.18 338.21,280.92 338.84,281.18 339.47,280.75 340.1,280.71 340.73,280.37 341.36,280.72 341.99,280.44 342.66,280.85 343.32,280.34 343.99,280.76 344.65,280.33 345.32,280.62 345.98,280.51 346.65,280.62 347.26,280.32 347.88,280.13 348.49,280.02 349.1,279.96 349.71,279.83 350.32,279.93 350.94,279.9 351.55,280.21 352.16,279.6 352.78,279.91 353.39,279.87 354,279.59 354.62,279.92 355.23,279.54 355.84,279.88 356.46,279.44 357.07,279.89 357.68,279.46 358.3,279.27 358.91,279.27 359.53,279.27 360.14,279.18 360.75,279.27 361.37,279.69 361.98,279.23 362.6,279.21 363.21,279.42 363.83,278.9 364.44,278.88 365.06,279.39 365.67,278.97 366.29,278.82 366.9,278.79 367.52,279.15 368.13,279.27 368.75,278.83 369.37,279.01 369.98,278.8 370.6,278.58 371.21,278.62 371.84,278.6 372.47,278.51 373.1,278.85 373.73,278.33 374.35,278.5 374.98,278.71 375.61,278.18 376.24,278.8 376.87,278.52 377.51,278.52 378.15,278.17 378.79,278.14 379.42,278.56 380.06,278.62 380.7,277.92 381.34,278.45 381.98,277.98 382.62,277.87 383.26,278.2 383.9,277.82 384.55,278.31 385.2,278.29 385.84,277.87 386.49,277.74 387.14,277.97 387.79,278.1 388.43,277.58 389.08,278.01 389.73,277.58 390.38,277.73 390.98,277.55 391.58,277.47 392.19,277.76 392.79,277.57 393.39,277.98 394,277.95 394.6,277.8 395.21,277.62 395.81,277.69 396.41,277.45 397.02,277.52 397.62,277.55 398.22,277.43 398.87,277.42 399.52,277.68 400.17,277.75 400.81,277.55 401.46,277.61 402.11,277.19 402.75,277.01 403.4,277.09 404.05,277.25 404.69,277.41 405.34,277.36 405.99,277.47 406.63,277.35 407.27,276.98 407.91,276.79 408.55,277.06 409.19,276.93 409.82,277.28 410.46,277.28 411.1,277 411.74,277.14 412.38,277.08 413.02,276.91 413.66,276.83 414.29,277.17 414.93,277.04 415.56,276.85 416.19,277.12 416.82,276.51 417.46,276.92 418.09,276.74 418.72,276.56 419.35,276.4 419.99,276.69 420.62,276.87 421.25,276.36 421.88,276.84 422.5,276.88 423.12,276.3 423.75,276.53 424.38,276.46 425,276.33 425.62,276.16 426.25,276.24 426.88,276.69 427.5,276.6 428.12,276.65 428.75,276.31 429.35,276.29 429.95,275.96 430.55,276.19 431.15,276.28 431.75,276.54 432.36,275.87 432.96,276.26 433.56,275.81 434.16,276.43 434.76,275.87 435.36,276.19 435.96,276.12 436.56,275.8 437.19,275.95 437.81,275.9 438.44,275.7 439.06,275.83 439.69,275.57 440.31,276 440.94,276.15 441.56,275.83 442.19,275.7 442.81,275.76 443.44,275.47 444.06,275.86 444.69,275.8 445.29,275.37 445.89,275.53 446.5,275.33 447.1,275.7 447.7,275.2 448.3,275.77 448.91,275.18 449.51,275.69 450.11,275.22 450.71,275.43 451.32,275.53 451.92,275.66 452.52,275.59 453.12,275.06 453.75,275.42 454.38,275.19 455,274.98 455.62,275.16 456.25,275.46 456.88,274.79 457.5,275.24 458.12,275.1 458.75,275.31 459.38,275 460,274.81 460.62,275.2 461.25,274.65 461.88,275.03 462.51,274.73 463.15,274.53 463.79,274.58 464.43,275.03 465.07,274.51 465.71,275.02 466.34,274.45 466.98,274.97 467.62,274.33 468.26,274.72 468.9,274.6 469.54,274.62 470.17,274.82 470.81,274.3 471.42,274.81 472.03,274.49 472.64,274.63 473.25,274.21 473.85,274.7 474.46,274.48 475.07,274.28 475.68,274.08 476.29,274.51 476.9,274.26 477.5,274.53 478.11,274.43 478.72,274.31 479.33,274.26 479.94,273.85 480.56,274.28 481.18,274.18 481.8,273.72 482.42,273.67 483.04,273.66 483.66,273.72 484.28,274.07 484.9,274.05 485.52,273.97 486.15,273.71 486.77,274.08 487.39,273.5 488.01,273.53 488.63,273.65 489.25,273.49 489.88,273.8 490.52,273.84 491.15,273.75 491.78,273.43 492.42,273.58 493.05,273.36 493.68,273.5 494.32,273.46 494.95,273.16 495.58,273.62 496.22,273.57 496.85,273.52 497.48,273.01 498.12,273.08 498.75,273.41 499.4,273.42 500.05,273.26 500.69,273.45 501.34,273.07 501.99,272.9 502.64,273.05 503.28,272.9 503.93,272.92 504.58,273.17 505.23,272.82 505.88,273.07 506.55,272.95 507.23,272.52 507.91,272.84 508.59,273.05 509.27,272.87 509.95,272.98 510.62,272.8 511.42,273.02 512.21,272.31 513,272.55" fill="none" stroke="#0000c8" stroke-width="2.0" stroke-linejoin="round" stroke-linecap="butt"/>
<polyline points="305.9,354.33 305.9,354.15 305.9,353.05 305.9,352.7 305.9,352.01 305.91,350.75 305.91,350.67 305.91,349.79 305.91,349.1 305.91,348.84 305.91,348.2 305.91,347.21 305.91,347.03 305.92,345.84 305.92,345.2 305.92,345.33 305.92,344.75 305.92,344.16 305.92,343.6 305.92,342.77 305.92,342.02 305.92,341.38 305.93,340.78 305.93,340.55 305.93,339.96 305.93,338.88 305.93,338.07 305.93,337.77 305.93,337.07 305.93,336.81 305.93,336.31 305.94,335.44 305.94,334.35 305.94,334.16 305.94,333.17 305.94,332.92 305.94,332.55 305.94,331.8 305.94,330.99 305.94,330.09 305.95,330.17 305.95,329.5 305.95,328.53 305.95,327.52 305.95,327.46 305.95,326.59 305.95,325.97 305.95,325.33 305.95,324.62 305.96,323.87 305.96,323.71 305.96,322.97 305.96,322.27 305.96,321.94 305.96,321.1 305.96,320.17 305.97,319.64 305.97,319.27 305.97,318.74 305.97,318.08 305.98,317.56 305.98,316.58 305.98,316.32 305.98,315.53 305.99,314.6 305.99,313.86 305.99,313.68 306,313.25 306,312.72 306,311.97 306,311.35 306.01,310.51 306.01,309.57 306.01,308.99 306.02,308.86 306.02,307.69 306.03,307.24 306.03,306.66 306.04,305.54 306.04,304.99 306.05,304.43 306.06,304.33 306.06,303.68 306.07,302.41 306.07,301.84 306.08,301.94 306.08,300.56 306.09,300.49 306.1,299.7 306.11,299.36 306.11,298.64 306.12,297.46 306.13,297.47 306.14,296.82 306.15,295.61 306.16,295.82 306.17,294.64 306.18,294.19 306.19,293.65 306.21,293.07 306.22,292.47 306.24,291.41 306.26,291.51 306.28,290.61 306.29,289.62 306.31,289.38 306.34,288.45 306.36,288.02 306.39,287.63 306.41,287.02 306.44,285.84 306.46,285.31 306.5,285.22 306.53,284.22 306.57,283.12 306.6,282.8 306.64,281.77 306.68,280.99 306.72,280.89 306.76,279.78 306.8,279.18 306.84,279.04 306.89,278.61 306.95,277.11 307.01,277.04 307.06,275.8 307.15,274.95 307.24,274.14 307.33,273.37 307.44,273.37 307.54,272.9 307.64,271.46 307.82,270.85 308,270.02 308.4,269.29 308.88,268.27 309.42,267.32 310.05,267.15 310.75,265.88 311.64,265.7 312.19,264.92 312.73,265.03 313.37,264.2 314.01,263.9 314.75,264.24 315.49,263.21 316.27,263.03 317.06,262.86 317.89,262.84 318.72,262.1 319.3,261.5 319.89,261.8 320.47,261.6 321.09,261.32 321.71,260.95 322.32,261.15 322.94,260.28 323.56,260.53 324.18,260.33 324.79,260.48 325.41,260.17 326.03,259.5 326.64,259.44 327.26,259.45 327.88,259.07 328.49,258.6 329.11,259.25 329.73,258.58 330.41,258.1 331.09,257.91 331.77,257.59 332.51,258.18 333.26,257.27 334.01,257.43 334.61,257.6 335.22,257.27 335.83,256.93 336.44,256.48 337.09,256.64 337.75,256.58 338.41,255.85 339.06,255.68 339.65,255.69 340.25,255.7 340.84,255.81 341.43,255.38 342.02,254.93 342.69,255.18 343.35,254.5 344,254.3 344.67,254.05 345.33,254.4 345.93,254.26 346.54,254.02 347.14,253.96 347.75,253.49 348.36,253.37 348.96,253.56 349.62,253.25 350.29,253.2 350.95,253.42 351.61,252.87 352.27,252.98 352.94,252.22 353.55,252.47 354.16,251.95 354.77,251.95 355.39,251.82 356,251.86 356.61,251.53 357.29,252.09 357.96,251.39 358.64,251.26 359.31,250.91 359.99,251.04 360.6,251.3 361.22,250.97 361.83,251.17 362.45,250.81 363.06,250.72 363.76,250.4 364.45,250.65 365.14,250.19 365.84,249.79 366.51,249.73 367.18,250.12 367.86,249.32 368.53,249.3 369.18,249.56 369.84,249.46 370.49,249.13 371.14,249.15 371.78,248.78 372.41,248.78 373.04,248.13 373.67,248.31 374.29,248.65 374.9,248.12 375.51,247.74 376.13,247.82 376.74,247.98 377.35,247.35 377.96,247.14 378.58,247.35 379.19,247.21 379.8,246.49 380.41,246.73 381.02,246.24 381.64,246.13 382.25,246.38 382.86,245.83 383.48,246.17 384.09,245.64 384.7,245.83 385.31,245.02 385.93,245.11 386.54,244.66 387.15,245.28 387.77,245.18 388.38,244.69 389,244.58 389.61,244.94 390.23,244.31 390.84,244.14 391.46,243.92 392.08,244.56 392.7,244.38 393.31,244.06 393.93,244.2 394.55,244.25 395.17,244.06 395.79,243.51 396.4,243.98 397.02,244.16 397.63,243.78 398.25,243.72 398.86,243.89 399.47,243.48 400.09,243.51 400.7,243.91 401.31,244.19 401.93,243.39 402.54,243.89 403.15,243.75 403.76,243.34 404.37,243.45 404.98,243.59 405.59,243.95 406.2,243.45 406.81,243.67 407.42,243.91 408.03,244.05 408.64,244.28 409.25,244.15 409.86,243.59 410.47,243.93 411.08,243.99 411.69,243.96 412.3,244.01 412.91,243.84 413.52,243.72 414.13,244.12 414.75,244.32 415.36,244.17 415.97,244.16 416.58,244.44 417.2,243.82 417.81,244.13 418.42,244.37 419.04,244.22 419.65,243.65 420.27,244.13 420.88,244.41 421.49,243.88 422.11,244.06 422.73,244.6 423.34,244.14 423.96,244.24 424.58,244.3 425.19,244.54 425.81,244.2 426.42,244.61 427.04,244.45 427.66,244.19 428.28,244.39 428.9,244.12 429.52,243.91 430.14,244.31 430.76,243.93 431.38,244.17 432.04,244.67 432.71,244.79 433.38,244.11 434.05,244.09 434.72,244.26 435.39,244.36 436.06,244.09 436.73,244.7 437.36,244.12 438,244.47 438.64,244.24 439.28,244.58 439.92,244.11 440.56,244.45 441.2,244.78 441.84,244.03 442.48,244.2 443.09,244.09 443.71,244.78 444.32,244.64 444.94,244.25 445.55,244.85 446.17,244.2 446.78,244.48 447.4,244.7 448.01,244.59 448.63,244.11 449.28,244.09 449.94,244.22 450.59,244.9 451.25,244.86 451.9,244.32 452.56,244.09 453.21,244.62 453.86,244.23 454.52,244.85 455.17,244.88 455.83,244.76 456.48,244.76 457.13,244.77 457.78,244.82 458.43,244.42 459.09,244.73 459.74,244.1 460.39,244.72 461.04,244.5 461.69,244.99 462.34,244.82 462.99,244.54 463.64,244.78 464.29,244.68 464.94,244.72 465.59,244.18 466.24,244.39 466.88,244.43 467.53,244.84 468.18,245.04 468.83,244.8 469.47,244.93 470.12,244.84 470.76,244.42 471.41,244.53 472.06,244.84 472.7,245.02 473.35,244.73 473.99,245 474.64,244.69 475.28,244.69 475.92,244.58 476.56,244.83 477.21,245 477.85,244.6 478.49,245.36 479.13,244.55 479.78,245.23 480.42,244.9 481.06,245.46 481.66,244.89 482.27,244.68 482.87,245.3 483.47,245.04 484.07,245.45 484.68,245.34 485.28,245.16 485.88,245.38 486.52,245.42 487.17,245.12 487.81,245.02 488.45,245.46 489.09,245.41 489.9,244.96 490.7,245.1" fill="none" stroke="#e800e8" stroke-width="2.0" stroke-linejoin="round" stroke-linecap="butt"/>
<polyline points="305.7,354.54 305.7,353.6 305.7,353.27 305.7,352.5 305.7,351.74 305.71,351.44 305.71,350.75 305.71,349.59 305.71,349.4 305.71,349.09 305.71,348.16 305.71,347.84 305.71,346.62 305.71,345.99 305.71,345.45 305.71,344.76 305.72,344.08 305.72,343.53 305.72,343.11 305.72,342.74 305.72,342.1 305.72,340.91 305.72,340.88 305.72,340.18 305.72,339.27 305.72,338.46 305.73,338.54 305.73,337.35 305.73,336.84 305.73,336.27 305.73,336.06 305.73,335.58 305.73,334.95 305.73,334.29 305.73,333.68 305.73,332.78 305.73,331.84 305.74,331.37 305.74,330.69 305.74,330.07 305.74,329.46 305.74,328.99 305.74,328.15 305.74,327.73 305.74,327.55 305.74,326.44 305.74,326.03 305.75,325.69 305.75,324.4 305.75,324.35 305.75,323.58 305.75,322.55 305.75,322.61 305.75,321.92 305.75,320.74 305.75,320.81 305.75,319.88 305.75,319.3 305.76,318.34 305.76,317.58 305.76,317.49 305.76,316.88 305.76,315.83 305.76,315.09 305.76,314.91 305.76,314.07 305.76,313.49 305.77,313.3 305.77,312.46 305.77,311.49 305.77,311.35 305.77,310.76 305.78,310.03 305.78,309.73 305.78,308.74 305.78,308.27 305.78,307.19 305.79,306.78 305.79,306.17 305.79,305.67 305.79,305.12 305.79,304.2 305.8,304.05 305.8,302.94 305.8,302.49 305.8,302.15 305.8,301.09 305.81,300.73 305.81,300.49 305.81,299.8 305.82,298.9 305.82,298.11 305.82,297.95 305.83,297.43 305.83,296.17 305.84,295.82 305.84,295.3 305.84,294.8 305.85,293.78 305.85,293.66 305.85,292.86 305.86,292.39 305.86,291.89 305.87,291.06 305.87,290.42 305.88,289.48 305.88,288.81 305.89,288.24 305.9,287.94 305.9,287.12 305.91,286.22 305.92,286.07 305.92,285.11 305.93,284.83 305.94,283.92 305.94,283.34 305.95,282.38 305.96,282.27 305.98,281.23 305.99,280.76 306,279.92 306.01,279.39 306.02,278.49 306.04,278.02 306.05,277.43 306.07,277.06 306.08,275.96 306.1,275.36 306.12,275.08 306.13,274.31 306.15,274 306.17,272.68 306.19,272.37 306.21,272.04 306.24,271.33 306.26,270.36 306.28,269.85 306.31,269.11 306.34,268.13 306.37,267.53 306.4,266.98 306.43,266.84 306.46,265.63 306.51,265.02 306.55,264.55 306.59,263.97 306.64,263.24 306.7,262.28 306.77,261.61 306.83,260.65 306.89,260.58 306.98,259.54 307.06,258.77 307.15,258 307.23,257.53 307.34,256.54 307.44,255.97 307.55,255.08 307.65,254.44 307.77,253.99 307.9,253.11 308.02,252.22 308.15,252.11 308.29,250.81 308.43,250.44 308.57,249.69 308.71,248.85 308.86,248.46 309.01,247.99 309.17,247.6 309.32,246.68 309.54,246.08 309.76,245.81 309.99,244.91 310.23,244.16 310.47,243.37 310.71,243.23 311.07,242.54 311.43,241.17 311.78,240.94 312.12,239.84 312.47,239.3 312.81,238.31 313.15,237.94 313.49,237.41 313.84,236.85 314.19,236.82 314.56,236.4 314.93,235.37 315.32,235.25 315.7,234.34 316.1,234.06 316.5,233.26 316.92,233.31 317.34,232.48 317.77,232.01 318.21,231.64 318.67,230.88 319.12,230.3 319.6,229.92 320.08,229.17 320.54,228.72 321.01,227.96 321.48,227.35 321.94,226.9 322.39,227.03 322.85,226.26 323.3,225.36 323.75,225.06 324.67,224.66 325.61,224.04 326.56,224.02 327.54,223.7 328.64,222.85 329.26,223.38 329.88,223.47 330.57,223.26 331.25,223.4 332,222.95 332.75,223.17 333.56,223.24 334.38,223.36 335.25,223.34 336.12,223.46 336.75,223.12 337.38,223.52 338,223.4 338.67,223.74 339.33,223.28 340,223.57 340.62,223.8 341.25,223.76 341.87,223.75 342.49,223.34 343.24,223.39 343.99,223.55 344.73,223.86 345.48,223.4 346.18,223.93 346.87,223.53 347.57,223.62 348.27,223.72 348.96,223.96 349.62,224.12 350.29,224.33 350.95,223.78 351.61,223.69 352.27,224.34 352.94,224.15 353.6,224.44 354.27,224.3 354.93,223.86 355.6,224.08 356.26,223.99 356.92,224.2 357.59,224.1 358.26,224.6 358.92,224.65 359.59,224.12 360.26,224.8 360.92,224.8 361.59,224.37 362.26,224.8 362.93,224.89 363.6,224.76 364.27,224.49 364.94,224.74 365.61,224.89 366.28,224.58 366.95,224.73 367.62,224.46 368.29,224.55 368.96,225.1 369.62,224.75 370.27,225.11 370.93,224.94 371.58,225.21 372.24,224.91 372.89,224.8 373.53,225.32 374.17,225.04 374.81,225.05 375.45,225.31 376.09,225.39 376.73,225.76 377.36,225.66 377.98,225.51 378.6,225.57 379.23,225.76 379.85,225.44 380.47,225.64 381.08,225.95 381.69,226.28 382.3,226.08 382.91,225.83 383.52,226.51 384.12,226.44 384.8,226.06 385.48,226.26 386.16,226.07 386.84,226.74 387.51,226.39 388.14,226.96 388.76,226.96 389.39,227.09 390.01,227 390.64,226.83 391.35,226.78 392.07,227.33 392.78,226.98 393.5,227.49 394.15,227.81 394.8,227.41 395.45,227.76 396.1,227.96 396.73,227.77 397.37,227.93 398,228.38 398.63,228.16 399.25,228.27 399.86,228.46 400.48,229.17 401.09,229.27 401.69,228.79 402.29,229.31 402.89,229.32 403.49,229.16 404.07,229.49 404.65,229.97 405.23,229.62 405.81,230.53 406.39,230.15 406.98,230.35 407.56,230.99 408.14,230.5 408.72,230.65 409.3,231.08" fill="none" stroke="#18e8e8" stroke-width="2.2" stroke-linejoin="round" stroke-linecap="butt"/>
<path d="M346.72 355.1V350.6M346.72 215.3V219.8M388.34 355.1V350.6M388.34 215.3V219.8M429.96 355.1V350.6M429.96 215.3V219.8M471.58 355.1V350.6M471.58 215.3V219.8M305.1 327.14H309.6M513.2 327.14H508.7M305.1 299.18H309.6M513.2 299.18H508.7M305.1 271.22H309.6M513.2 271.22H508.7M305.1 243.26H309.6M513.2 243.26H508.7" stroke="#484848" stroke-width="1.1" fill="none"/>
<rect x="305.1" y="215.3" width="208.1" height="139.8" fill="none" stroke="#484848" stroke-width="1.6"/>
<text x="299.2" y="359" font-size="10.2" text-anchor="end" font-family="'Liberation Sans', Arial, sans-serif">0</text>
<text x="299.2" y="331.04" font-size="10.2" text-anchor="end" font-family="'Liberation Sans', Arial, sans-serif">1</text>
<text x="299.2" y="303.08" font-size="10.2" text-anchor="end" font-family="'Liberation Sans', Arial, sans-serif">2</text>
<text x="299.2" y="275.12" font-size="10.2" text-anchor="end" font-family="'Liberation Sans', Arial, sans-serif">3</text>
<text x="299.2" y="247.16" font-size="10.2" text-anchor="end" font-family="'Liberation Sans', Arial, sans-serif">4</text>
<text x="299.2" y="219.2" font-size="10.2" text-anchor="end" font-family="'Liberation Sans', Arial, sans-serif">5</text>
<text x="306.5" y="370.2" font-size="10.2" text-anchor="middle" font-family="'Liberation Sans', Arial, sans-serif">0</text>
<text x="348.12" y="370.2" font-size="10.2" text-anchor="middle" font-family="'Liberation Sans', Arial, sans-serif">10</text>
<text x="389.74" y="370.2" font-size="10.2" text-anchor="middle" font-family="'Liberation Sans', Arial, sans-serif">20</text>
<text x="431.36" y="370.2" font-size="10.2" text-anchor="middle" font-family="'Liberation Sans', Arial, sans-serif">30</text>
<text x="472.98" y="370.2" font-size="10.2" text-anchor="middle" font-family="'Liberation Sans', Arial, sans-serif">40</text>
<text x="514.6" y="370.2" font-size="10.2" text-anchor="middle" font-family="'Liberation Sans', Arial, sans-serif">50</text>
<text x="409.25" y="384.6" font-size="10.3" text-anchor="middle" font-family="'Liberation Sans', Arial, sans-serif">Time (ps)</text>
<text x="394.15" y="403.6" font-size="14" text-anchor="middle" font-family="'Liberation Serif', 'Times New Roman', serif">(d)</text>
<text transform="translate(277.8,282.6) rotate(-90)" font-size="10.3" text-anchor="middle" font-family="'Liberation Sans', Arial, sans-serif">Particle Velocity (km·s<tspan font-size="6.8" dy="-5.3">-1</tspan><tspan dy="5.3">)</tspan></text>
<text x="350.8" y="340.1" font-size="10" text-anchor="end" font-family="'Liberation Sans', Arial, sans-serif">6km·s<tspan font-size="6.5" dy="-5.5">-1</tspan></text>
<line x1="358.7" y1="335.3" x2="369.3" y2="335.3" stroke="#e40000" stroke-width="1.6"/>
<text x="350.8" y="350.4" font-size="10" text-anchor="end" font-family="'Liberation Sans', Arial, sans-serif">7km·s<tspan font-size="6.5" dy="-5.5">-1</tspan></text>
<line x1="358.7" y1="345.6" x2="369.3" y2="345.6" stroke="#10d010" stroke-width="1.6"/>
<text x="419.2" y="340.1" font-size="10" text-anchor="end" font-family="'Liberation Sans', Arial, sans-serif">8km·s<tspan font-size="6.5" dy="-5.5">-1</tspan></text>
<line x1="425.5" y1="335.3" x2="436.6" y2="335.3" stroke="#0000c8" stroke-width="1.6"/>
<text x="419.2" y="350.4" font-size="10" text-anchor="end" font-family="'Liberation Sans', Arial, sans-serif">9km·s<tspan font-size="6.5" dy="-5.5">-1</tspan></text>
<line x1="425.5" y1="345.6" x2="436.6" y2="345.6" stroke="#e800e8" stroke-width="1.6"/>
<text x="485.2" y="340.1" font-size="10" text-anchor="end" font-family="'Liberation Sans', Arial, sans-serif">10km·s<tspan font-size="6.5" dy="-5.5">-1</tspan></text>
<line x1="491.7" y1="335.3" x2="503.4" y2="335.3" stroke="#18e8e8" stroke-width="1.6"/>
</g>
</svg>
</body></html>
